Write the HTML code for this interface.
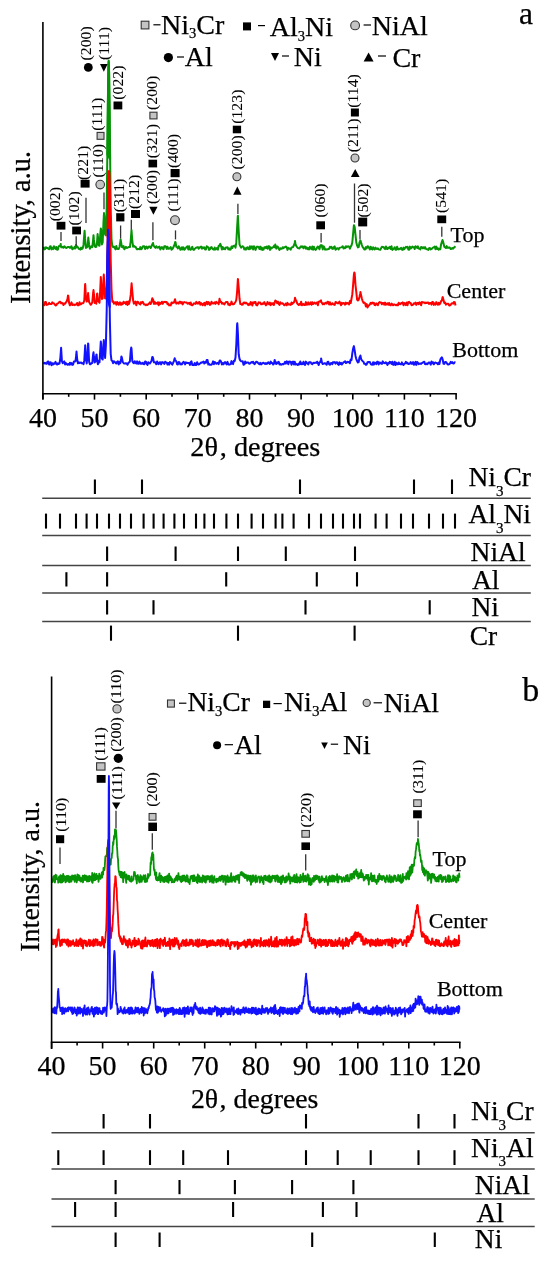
<!DOCTYPE html>
<html><head><meta charset="utf-8"><title>XRD patterns</title>
<style>
html,body{margin:0;padding:0;background:#fff;width:550px;height:1261px;overflow:hidden}
svg{display:block}
text{font-family:"Liberation Serif","Times New Roman",serif;fill:#000;stroke:#000;stroke-width:0.25px}
text.r{stroke-width:0.1px}
</style></head>
<body>
<svg width="550" height="1261" viewBox="0 0 550 1261">
<rect width="550" height="1261" fill="#fff"/>
<rect x="141.2" y="21.2" width="7.7" height="7.7" fill="#c4c4c4" stroke="#333" stroke-width="1.1"/>
<line x1="153.4" y1="24.8" x2="160.5" y2="24.8" stroke="#000" stroke-width="1.2"/>
<text x="161" y="33.5" font-size="28"><tspan>Ni</tspan><tspan font-size="14.5" dy="4.5">3</tspan><tspan font-size="28" dy="-4.5">Cr</tspan></text>
<rect x="243" y="22.4" width="8" height="8" fill="#000"/>
<line x1="258" y1="25.6" x2="265" y2="25.6" stroke="#000" stroke-width="1.2"/>
<text x="269.7" y="36" font-size="28"><tspan>Al</tspan><tspan font-size="14.5" dy="4.5">3</tspan><tspan font-size="28" dy="-4.5">Ni</tspan></text>
<circle cx="355.1" cy="25.4" r="4.4" fill="#c4c4c4" stroke="#333" stroke-width="1.1"/>
<line x1="363.6" y1="25" x2="371" y2="25" stroke="#000" stroke-width="1.2"/>
<text x="371.7" y="35.4" font-size="28">NiAl</text>
<circle cx="168.4" cy="57.6" r="4.6" fill="#000"/>
<line x1="177" y1="57" x2="184" y2="57" stroke="#000" stroke-width="1.2"/>
<text x="184.7" y="66" font-size="28">Al</text>
<polygon points="271,53 279,53 275,61" fill="#000"/>
<line x1="282" y1="56" x2="289" y2="56" stroke="#000" stroke-width="1.2"/>
<text x="293.7" y="66.4" font-size="28">Ni</text>
<polygon points="363.6,61.6 373.6,61.6 368.6,52.4" fill="#000"/>
<line x1="378" y1="56" x2="386" y2="56" stroke="#000" stroke-width="1.2"/>
<text x="392.4" y="67" font-size="28">Cr</text>
<text x="518.9" y="23.8" font-size="31.5">a</text>
<polyline fill="none" stroke="#069406" stroke-width="2" stroke-linejoin="round" points="43.5,246.7 44.3,249.4 45.1,249.1 45.9,247.2 46.7,248.1 47.5,247.9 48.3,248.7 49.1,249.2 49.9,246.5 50.7,246.3 51.5,249.4 52.3,247.8 53.1,249.1 53.9,246.2 54.7,247.9 55.5,248.9 56.3,247 57.1,249.8 57.9,249.6 58.7,246.2 59.5,246 60.3,245.7 60.7,244 61.1,247.2 61.9,247.4 62.7,246.9 63.5,247.7 64.3,246.3 65.1,247 65.9,247.8 66.7,248 67.5,247 68.3,247 69.1,247 69.9,247.9 70.7,247.3 71.5,246.2 72.3,249.3 73.1,248.2 73.9,248.5 74.7,246.7 75.5,248.4 76,245 76.3,247.1 77.1,246.4 77.9,247.3 78.7,248.8 79.5,248.8 80.3,249.6 81.1,247.6 81.9,249 82.7,248.2 83.5,244.9 84.3,234.1 84.6,230.8 85.1,238.9 85.9,247.9 86.7,247.4 87.5,246.8 88.3,237.5 88.4,239 89.1,244.4 89.9,248.7 90.7,247.3 91.5,246.3 92.3,247.1 93.1,240 93.5,235.2 93.9,239.9 94.7,246.3 95.5,247.1 96.3,246.9 97.1,241.1 97.6,234 97.9,236.7 98.7,245.4 99.5,245.7 100.3,234.1 100.8,228.5 101.1,229.8 101.9,244.4 102.7,242.3 103.5,222 104,213 104.3,216 105.1,234.5 105.9,235.4 106.7,207.4 107.5,140.4 108.3,71.8 108.7,60.5 109.1,73.1 109.9,138.7 110.7,206.3 111.5,239.1 112.3,246 113.1,247.1 113.9,246.6 114.7,247.8 115.5,249.4 116.3,245.9 117.1,248.8 117.9,248.9 118.7,249 119.5,247 120.3,241.8 120.6,239.5 121.1,242.2 121.9,247.1 122.7,247.4 123.5,246.1 124.3,249.3 125.1,248.2 125.9,246.8 126.7,247.9 127.5,247.8 128.3,247.2 129.1,247 129.9,247 130.7,241.1 131.5,230 132.3,241 133.1,246.7 133.9,245.8 134.7,246.8 135.5,246.7 136.3,248.3 137.1,249.4 137.9,249.1 138.7,249.1 139.5,249.2 140.3,247.1 141.1,249.3 141.9,248.7 142.7,246.5 143.5,246.2 144.3,246.2 145.1,249 145.9,247.1 146.7,246.6 147.5,248.5 148.3,247.4 149.1,246.4 149.9,246.7 150.7,248 151.5,246.3 152.3,244.5 153,243 153.1,243.9 153.9,246 154.7,247.1 155.5,247.9 156.3,246.2 157.1,247.6 157.9,247.7 158.7,246.9 159.5,246.6 160.3,249.6 161.1,248.1 161.9,247 162.7,248.5 163.5,249.3 164.3,246.3 165.1,246.2 165.9,246.7 166.7,248.9 167.5,246.8 168.3,248.8 169.1,248.7 169.9,248.2 170.7,247 171.5,249.8 172.3,249.1 173.1,247.9 173.9,246 174.7,244.3 175.2,242 175.5,242.3 176.3,246.8 177.1,247.1 177.9,248.5 178.7,246.3 179.5,247.3 180.3,249.8 181.1,249.5 181.9,247.3 182.7,249.4 183.5,247.4 184.3,249.7 185.1,249 185.9,247.8 186.7,247.1 187.5,246.2 188.3,249.5 189.1,246.3 189.9,249.3 190.7,249.8 191.5,248.4 192.3,246.8 193.1,249.5 193.9,249.9 194.7,248.9 195.5,248.1 196.3,247.6 197.1,247.5 197.9,247 198.7,248.7 199.5,247.8 200.3,246.9 201.1,246.6 201.9,248.7 202.7,247.3 203.5,248.1 204.3,247.4 205.1,249.5 205.9,249.6 206.7,246.3 207.5,246.9 208.3,247.4 209.1,249.9 209.9,249.2 210.7,247.5 211.5,247 212.3,248.7 213.1,249.3 213.9,249.7 214.7,247.5 215.5,249.5 216.3,248.7 217.1,247.9 217.9,249.7 218.7,246 219.5,245.7 219.8,244.5 220.3,243.8 221.1,246.1 221.9,249.5 222.7,246.9 223.5,249 224.3,248.4 225.1,249.3 225.9,247.5 226.7,247.4 227.5,247.2 228.3,249.4 229.1,248.4 229.9,249.7 230.7,249.4 231.5,246.5 232.3,248 233.1,246.2 233.9,245.8 234.7,245.6 235.5,247.7 236.3,242.4 237.1,227.7 237.8,216 237.9,215.7 238.7,231.4 239.5,244.4 240.3,246.2 241.1,247.6 241.9,246.6 242.7,246.2 243.5,246.9 244.3,249.4 245.1,248.2 245.9,249.6 246.7,247.8 247.5,247.2 248.3,249.1 249.1,249.3 249.9,246.2 250.7,248.7 251.5,246.5 252.3,246.6 253.1,249.5 253.9,246.3 254.7,247.1 255.5,249.9 256.3,247.8 257.1,246.6 257.9,246.8 258.7,247.1 259.5,249 260.3,246.6 261.1,249.6 261.9,247.6 262.7,249.9 263.5,249.6 264.3,247.3 265.1,247.1 265.9,248 266.7,246.6 267.5,248.7 268.3,246.3 269.1,246.2 269.9,249.9 270.7,247.3 271.5,248.4 272.3,247.8 273.1,247.2 273.9,245.9 274.7,247.3 275.3,244.5 275.5,246.5 276.3,248.6 277.1,246.4 277.9,246.9 278.7,248.5 279.5,249.9 280.3,248.2 281.1,248.8 281.9,248.7 282.7,247.2 283.5,248.2 284.3,247.3 285.1,247.1 285.9,246.5 286.7,247.2 287.5,249.9 288.3,247.9 289.1,248.6 289.9,248.6 290.7,249.7 291.5,247.6 292.3,247.2 293.1,247 293.9,245.3 294.7,243 295,241 295.5,244.3 296.3,246 297.1,247.1 297.9,248.1 298.7,248.3 299.5,248.4 300.3,247.1 301.1,246.2 301.9,247.1 302.7,246.4 303.5,248.3 304.3,246.4 305.1,246.5 305.9,248.6 306.7,247.3 307.5,249.2 308.3,248.1 309.1,249.5 309.9,246.8 310.7,248.1 311.5,249.2 312.3,246.5 313.1,249.8 313.9,246.8 314.7,249.1 315.5,249.9 316.3,249.3 317.1,247.4 317.9,246.5 318.7,248 319.5,249.3 320.3,245.5 321,245 321.1,246.5 321.9,245.4 322.7,249.4 323.5,246.2 324.3,247.3 325.1,249.6 325.9,249.2 326.7,249.6 327.5,249.4 328.3,249 329.1,248.8 329.9,246.8 330.7,247.8 331.5,246.8 332.3,248.9 333.1,248.7 333.9,247.1 334.7,246.4 335.5,249.8 336.3,249.2 337.1,248.2 337.9,248.2 338.7,249.4 339.5,247.9 340.3,247.6 341.1,247.4 341.9,247.1 342.7,246.2 343.5,248.5 344.3,247.6 345.1,248.2 345.9,246.2 346.7,247.3 347.5,246.4 348.3,246.3 349.1,246.7 349.9,248.7 350.7,246.6 351.5,245.4 352.3,242.5 353.1,233.8 353.9,225.2 354.3,225.7 354.7,227.2 355.5,234.8 356.3,242.5 357.1,245.4 357.9,247.4 358.7,247.1 359.5,242.5 360.3,240.4 360.4,240.4 361.1,242.6 361.9,245.1 362.7,247.1 363.5,248 364.3,249.4 365.1,249.5 365.9,247.1 366.7,248.5 367.5,246.3 368.3,246.4 369.1,248.1 369.9,249.5 370.7,246.7 371.5,249 372.3,249.5 373.1,247.3 373.9,248.8 374.7,249.4 375.5,247.6 376.3,248.8 377.1,249 377.9,248.4 378.7,249.4 379.5,249.6 380.3,249.8 381.1,248.3 381.9,246.8 382.7,247.1 383.5,247 384.3,248.3 385.1,249.1 385.9,246.4 386.7,248.8 387.5,248.9 388.3,247.5 389.1,248.1 389.9,246.8 390.7,249 391.5,246.3 392.3,249.9 393.1,249.3 393.9,248.6 394.7,247.2 395.5,249.7 396.3,249.8 397.1,246.7 397.9,249.1 398.7,249.4 399.5,248.7 400.3,248.9 401.1,247.9 401.9,249.7 402.7,249.9 403.5,247.6 404.3,249.2 405.1,247.8 405.9,246.8 406.7,247.4 407.5,246.7 408.3,249.6 409.1,249.8 409.9,246.6 410.7,248.5 411.5,247.7 412.3,246.6 413.1,247.3 413.9,247.1 414.7,249 415.5,246.2 416.3,246.9 417.1,247.9 417.9,246.3 418.7,248.6 419.5,248.5 420.3,249.4 421.1,247 421.9,247.3 422.7,248.3 423.5,247.2 424.3,248.4 425.1,247.1 425.9,248.8 426.7,249.2 427.5,249.3 428.3,249.9 429.1,248.3 429.9,248 430.7,249.4 431.5,249.1 432.3,248.3 433.1,247.6 433.9,247.2 434.7,246.6 435.5,249.2 436.3,246.6 437.1,249 437.9,248.2 438.7,249.7 439.5,248.8 440.3,249.3 441.1,244.4 441.9,241.9 442.5,240 442.7,240.5 443.5,243.3 444.3,246.9 445.1,247.2 445.9,248 446.7,246.1 447.5,247.8 448.3,247.8 449.1,247.3 449.9,247.7 450.7,249.1 451.5,248.8 452.3,248 453.1,248.6 453.9,247.6 454.7,247 455.5,246.2"/>
<polygon fill="#069406" stroke="#069406" stroke-width="2" stroke-linejoin="round" points="107.3,154.5 107.6,130.1 107.8,106.2 108.1,85.1 108.3,69.5 108.6,61.6 108.8,62.5 109.1,72.1 109.3,88.9 109.6,110.8 109.8,135.1 110.1,159.2"/>
<polyline fill="none" stroke="#ff0000" stroke-width="2" stroke-linejoin="round" points="43.5,305.3 44.3,305.3 45.1,301.9 45.9,302 46.7,304.9 47.5,304.5 48.3,304.2 49.1,302.9 49.9,304 50.7,304 51.5,303.9 52.3,302.3 53.1,303.3 53.9,303.2 54.7,304.4 55.5,305.5 56.3,305.3 57.1,303.7 57.9,303.4 58.7,302.7 59.5,301.8 60.3,301.8 61.1,303.4 61.9,302.9 62.7,303.1 63.5,305 64.3,303.6 65.1,303.7 65.9,302.4 66.7,301.4 67.5,298.9 68,295.5 68.3,296 69.1,303 69.9,305.3 70.7,304.2 71.5,302.3 72.3,305 73.1,304.7 73.9,304.4 74.7,305.1 75.5,304.5 76.3,304.6 77.1,303 77.9,305.3 78.7,305.3 79.5,302.2 80.3,304.4 81.1,304.2 81.9,303.2 82.7,303.3 83.5,302.8 84.3,300.4 85.1,284.4 85.2,284 85.9,296.9 86.7,301.6 87.5,300.7 88.1,293 88.3,295.7 89.1,302.1 89.9,303.4 90.7,304.8 91.5,303.9 92.3,302.3 93.1,293.2 93.5,290 93.9,293.6 94.7,303 95.5,301.6 96.3,303.7 97.1,293.7 97.3,293.5 97.9,300.9 98.7,301.6 99.5,302.8 100.3,288 100.8,277 101.1,281.4 101.9,298.9 102.7,298.2 103.5,279.1 103.8,274.6 104.3,283.7 105.1,298.4 105.9,298.6 106.7,286.4 107.5,247.3 108.3,192.1 109,171 109.1,172.7 109.9,207.2 110.7,260.6 111.5,289.3 112.3,301.7 113.1,301.1 113.9,303.7 114.7,302.4 115.5,302.3 116.3,304.8 117.1,301.9 117.9,303.5 118.7,304.8 119.5,302.5 120.3,302.4 121.1,304.9 121.9,303.2 122.7,304.3 123.5,301.7 124.3,303 125.1,302.2 125.9,304.1 126.7,301.8 127.5,305.1 128.3,301.5 129.1,303.9 129.9,300.3 130.7,294.9 131.5,284.8 131.6,283.3 132.3,291.3 133.1,300.3 133.9,303.7 134.7,302.8 135.5,301.6 136.3,305.3 137.1,302.1 137.9,301.7 138.7,302.9 139.5,304 140.3,304.5 141.1,302.1 141.9,302.9 142.7,301.8 143.5,303.4 144.3,304.6 145.1,304.5 145.9,305.1 146.7,304.5 147.5,304.9 148.3,304.3 149.1,303.4 149.9,302.4 150.7,304 151.5,301.8 152.3,298.3 152.7,299 153.1,299.6 153.9,303.9 154.7,301.9 155.5,303.8 156.3,303.1 157.1,303.6 157.9,302.2 158.7,305.3 159.5,302.6 160.3,304 161.1,303.3 161.9,301.7 162.7,303.8 163.5,302.2 164.3,301.9 165.1,301.8 165.9,302.3 166.7,302 167.5,304.1 168.3,303.6 169.1,305.4 169.9,305.2 170.7,305.4 171.5,302.5 172.3,303.3 173.1,302.4 173.9,302.7 174.7,300.2 175,299.3 175.5,301.5 176.3,303.6 177.1,302.5 177.9,303.2 178.7,303.6 179.5,301.7 180.3,301.8 181.1,303.2 181.9,302.1 182.7,304.4 183.5,302.6 184.3,302.1 185.1,302.4 185.9,302.6 186.7,302.5 187.5,303.7 188.3,303.5 189.1,302.9 189.9,304.1 190.7,302.5 191.5,305.1 192.3,305.3 193.1,304.5 193.9,303.3 194.7,303.6 195.5,303.9 196.3,301.9 197.1,303.3 197.9,303.7 198.7,302.4 199.5,302 200.3,304.7 201.1,303.1 201.9,303.7 202.7,305.2 203.5,304 204.3,302.8 205.1,305.4 205.9,303.1 206.7,301.8 207.5,304.3 208.3,302.1 209.1,302.8 209.9,304.9 210.7,304.2 211.5,301.7 212.3,303.4 213.1,303.2 213.9,303.5 214.7,302.4 215.5,303.9 216.3,301.9 217.1,302.7 217.9,302.9 218.7,304.2 219.5,298.8 219.8,300 220.3,301.9 221.1,301.7 221.9,303.7 222.7,303.1 223.5,303.4 224.3,304.5 225.1,303.1 225.9,302.1 226.7,302.1 227.5,301.9 228.3,304.8 229.1,304 229.9,305.2 230.7,304.2 231.5,301.6 232.3,304 233.1,304.4 233.9,304.1 234.7,303 235.5,302 236.3,299.9 237.1,291.9 237.9,278.9 238,279.6 238.7,287.5 239.5,298.5 240.3,304 241.1,304.1 241.9,304.8 242.7,304.6 243.5,302.6 244.3,302.4 245.1,303.4 245.9,302.6 246.7,303.2 247.5,304.2 248.3,305.1 249.1,303.9 249.9,304.8 250.7,302 251.5,303 252.3,305.5 253.1,302.2 253.9,303.3 254.7,301.9 255.5,302 256.3,305.1 257.1,305.4 257.9,304.1 258.7,302.2 259.5,302.8 260.3,302.6 261.1,304.2 261.9,304.3 262.7,303.3 263.5,303.7 264.3,302.1 265.1,303.7 265.9,305.3 266.7,304.5 267.5,302 268.3,303.6 269.1,304.4 269.9,302.6 270.7,305.1 271.5,303.4 272.3,304.3 273.1,303.1 273.9,305 274.7,302.5 275.3,300.4 275.5,300.8 276.3,301.1 277.1,303.1 277.9,301.7 278.7,303.9 279.5,305 280.3,302.3 281.1,303.6 281.9,303.5 282.7,303.2 283.5,304.4 284.3,305.2 285.1,304.4 285.9,303.5 286.7,305.3 287.5,302.9 288.3,304.5 289.1,304.2 289.9,304.5 290.7,304.9 291.5,302.5 292.3,303.9 293.1,302.9 293.9,302.5 294.7,300.2 295,297.8 295.5,299.8 296.3,300.6 297.1,303.2 297.9,304.3 298.7,305 299.5,304.1 300.3,304.7 301.1,301.7 301.9,305.2 302.7,304.4 303.5,304 304.3,305.1 305.1,305 305.9,302.1 306.7,304.8 307.5,304.6 308.3,302.4 309.1,304.5 309.9,303.9 310.7,302.4 311.5,304.7 312.3,302.2 313.1,304 313.9,303.3 314.7,302.6 315.5,303.8 316.3,303.4 317.1,302.4 317.9,305.3 318.7,301.8 319.5,301.3 320.3,301.7 321,300.4 321.1,301.7 321.9,302.8 322.7,304.3 323.5,303.4 324.3,304.2 325.1,302.9 325.9,302.7 326.7,303.6 327.5,301.8 328.3,302 329.1,304.5 329.9,302.3 330.7,304.5 331.5,304.6 332.3,303.2 333.1,304.2 333.9,304.6 334.7,304.9 335.5,302.1 336.3,302.2 337.1,303.1 337.9,303.4 338.7,302.7 339.5,301.6 340.3,303.7 341.1,305.2 341.9,302.9 342.7,303.6 343.5,303 344.3,303.2 345.1,304.7 345.9,302.6 346.7,303.8 347.5,303.1 348.3,303.2 349.1,304.4 349.9,300.9 350.7,303 351.5,298.8 352.3,294.4 353.1,285 353.9,274.7 354.3,272.4 354.7,273.6 355.5,285.1 356.3,292.1 357.1,299.7 357.9,300.4 358.7,299.7 359.5,296.8 360.3,293.2 360.4,292 361.1,295.1 361.9,298.7 362.7,301.1 363.5,302.9 364.3,302.5 365.1,303.2 365.9,306.4 366.7,304.1 367.5,307.5 368,306.4 368.3,305.9 369.1,305.3 369.9,304.4 370.7,302.8 371.5,303.8 372.3,302.5 373.1,303.4 373.9,302.8 374.7,305.1 375.5,305.2 376.3,303.4 377.1,304.1 377.9,305.2 378.7,302.9 379.5,302.1 380.3,302.6 381.1,302.4 381.9,304.3 382.7,303.1 383.5,303 384.3,304.7 385.1,302.6 385.9,304.8 386.7,304.1 387.5,303.2 388.3,304.8 389.1,303 389.9,305 390.7,305.2 391.5,303.6 392.3,304.3 393.1,305.3 393.9,304.5 394.7,304.5 395.5,305 396.3,305.2 397.1,304.6 397.9,305.4 398.7,302.8 399.5,304.1 400.3,304.2 401.1,303.1 401.9,303.2 402.7,302.4 403.5,305.3 404.3,303 405.1,303.5 405.9,305.1 406.7,302.4 407.5,305.3 408.3,302.2 409.1,301.8 409.9,303 410.7,303.1 411.5,305.2 412.3,305 413.1,304.6 413.9,303.3 414.7,303.8 415.5,302.6 416.3,304.9 417.1,303.2 417.9,302.8 418.7,304.1 419.5,302.3 420.3,302.9 421.1,305.2 421.9,302.1 422.7,302.2 423.5,302.5 424.3,302.6 425.1,303.3 425.9,302.6 426.7,303 427.5,302.6 428.3,302.6 429.1,304 429.9,303 430.7,303.1 431.5,304.6 432.3,301.9 433.1,302.2 433.9,304.9 434.7,303.3 435.5,304.6 436.3,302.1 437.1,303.6 437.9,304.8 438.7,302.8 439.5,304.4 440.3,303.4 441.1,301.1 441.9,300.5 442.5,297.4 442.7,297.1 443.5,300 444.3,302.9 445.1,302.5 445.9,304.7 446.7,303.8 447.5,303.8 448.3,303.7 449.1,305.4 449.9,305.4 450.7,304.9 451.5,303.4 452.3,303.2 453.1,303.7 453.9,301.9 454.7,302.1 455.5,305.5"/>
<polygon fill="#ff0000" stroke="#ff0000" stroke-width="2" stroke-linejoin="round" points="107.7,237.4 107.9,220.2 108.2,203.2 108.4,188.3 108.7,177.3 108.9,171.7 109.2,172.3 109.4,179.1 109.7,191.1 109.9,206.5 110.2,223.7 110.4,240.7"/>
<polyline fill="none" stroke="#1212ff" stroke-width="2" stroke-linejoin="round" points="43.5,362.3 44.3,363.5 45.1,362.8 45.9,363.7 46.7,363.8 47.5,361.6 48.3,361.4 49.1,364.6 49.9,362.4 50.7,362.3 51.5,365.2 52.3,363.2 53.1,364.5 53.9,363.2 54.7,363.8 55.5,361.9 56.3,363.7 57.1,364.6 57.9,363.3 58.7,364 59.5,363.5 60.3,358.5 61.1,347.8 61.9,361.1 62.7,363.2 63.5,362.3 64.3,361.4 65.1,364.6 65.9,363.1 66.7,364.1 67.5,364.7 68.3,364.1 69.1,364.8 69.9,362.8 70.7,364.4 71.5,363 72.3,364.9 73.1,364.6 73.9,361.6 74.7,361.6 75.5,361 76.3,354.7 76.5,351.6 77.1,358.6 77.9,363.3 78.7,362.3 79.5,363.1 80.3,362.7 81.1,362.5 81.9,363.4 82.7,363.2 83.5,364.2 84.3,360.4 85.1,347.4 85.2,345.3 85.9,358.2 86.7,363.4 87.5,354.9 88.1,343.4 88.3,344 89.1,361.7 89.9,364.3 90.7,364.3 91.5,363 92.3,363 93.1,354.6 93.5,352.3 93.9,357 94.7,362.4 95.5,361.4 96.3,354.8 96.6,354.5 97.1,360 97.9,364.3 98.7,360.8 99.5,362.4 100.3,349.5 100.8,341.5 101.1,343.7 101.9,358.6 102.7,359.5 103.5,344.8 103.8,340 104.3,345.8 105.1,358 105.9,344.9 106.7,310.6 107.5,253.6 108.2,229.8 108.3,231.8 109.1,269.6 109.9,322.1 110.7,354.1 111.5,360.3 112.3,361 113.1,363.2 113.9,361.2 114.7,361.9 115.5,362.7 116.3,363.5 117.1,361.8 117.9,361.3 118.7,364.4 119.5,362.1 120.3,363.2 121.1,358.7 121.4,356.4 121.9,357.8 122.7,361.9 123.5,363 124.3,363.6 125.1,363.5 125.9,363.3 126.7,363.5 127.5,364.7 128.3,363 129.1,362.4 129.9,361.5 130.7,351 131.2,347.6 131.5,348.6 132.3,361.1 133.1,362.6 133.9,363.1 134.7,361.2 135.5,362.8 136.3,363.5 137.1,361.4 137.9,363.7 138.7,363.7 139.5,361.6 140.3,363.7 141.1,363.1 141.9,363.9 142.7,362.7 143.5,364 144.3,364.2 145.1,361.4 145.9,361.6 146.7,363.9 147.5,365 148.3,362.3 149.1,363 149.9,363.5 150.7,362.2 151.5,360.9 152.3,356.9 152.6,357 153.1,358.1 153.9,362.4 154.7,362.2 155.5,362.7 156.3,364.2 157.1,361.4 157.9,363.5 158.7,364.1 159.5,362.5 160.3,362.2 161.1,364.4 161.9,362.3 162.7,362.1 163.5,363 164.3,364 165.1,361.8 165.9,362.6 166.7,362.6 167.5,364.5 168.3,363 169.1,364.6 169.9,362 170.7,362.6 171.5,363.8 172.3,364.7 173.1,362.9 173.9,361.1 174.7,358.3 175,359.3 175.5,360.4 176.3,361.3 177.1,364.3 177.9,364.5 178.7,362 179.5,362.4 180.3,364.4 181.1,363.8 181.9,364.4 182.7,362.7 183.5,361.9 184.3,362.5 185.1,364.4 185.9,362.4 186.7,362.7 187.5,363 188.3,363 189.1,362.9 189.9,364.9 190.7,362 191.5,361.4 192.3,365 193.1,364.7 193.9,365.1 194.7,363 195.5,365 196.3,364.9 197.1,362.2 197.9,364.2 198.7,364.6 199.5,363.9 200.3,363.3 201.1,362.5 201.9,362.7 202.7,362.2 203.5,361.6 204.3,363.5 205.1,362.1 205.9,362.8 206.7,360 207.5,359.9 208.3,364.5 209.1,363.9 209.9,364.8 210.7,364.7 211.5,364.8 212.3,363.5 213.1,361.4 213.9,364.2 214.7,362 215.5,362.5 216.3,363.8 217.1,363.3 217.9,362.8 218.7,364.1 219.5,361.1 219.8,360.4 220.3,360.5 221.1,361.8 221.9,364.5 222.7,363.1 223.5,364.3 224.3,362.6 225.1,362.1 225.9,363.3 226.7,364.4 227.5,361.9 228.3,364.3 229.1,364.7 229.9,364.3 230.7,364.3 231.5,361.1 232.3,363.4 233.1,364.1 233.9,360.7 234.7,360.9 235.5,357.5 236.3,344.7 237.1,324.4 237.3,323.3 237.9,333.4 238.7,354.3 239.5,358.8 240.3,360.5 241.1,361.2 241.9,361.4 242.7,361.3 243.5,364.8 244.3,364.4 245.1,361.5 245.9,363.2 246.7,362.5 247.5,362.5 248.3,362.6 249.1,363.8 249.9,363.6 250.7,362.7 251.5,362.1 252.3,362.6 253.1,361.8 253.9,363.5 254.7,364.1 255.5,362.8 256.3,361.7 257.1,362 257.9,362.8 258.7,363.7 259.5,364.3 260.3,362.8 261.1,364.4 261.9,363.7 262.7,363 263.5,362.8 264.3,363.3 265.1,364 265.9,363 266.7,364 267.5,363.1 268.3,362.3 269.1,363.4 269.9,364 270.7,361.6 271.5,363 272.3,362.9 273.1,364.5 273.9,363.7 274.7,360 274.8,360.4 275.5,363.1 276.3,364 277.1,362.3 277.9,363.1 278.7,361.8 279.5,364.5 280.3,363.9 281.1,364.7 281.9,364.4 282.7,363.9 283.5,364.2 284.3,363.5 285.1,361.8 285.9,363.6 286.7,361.4 287.5,361.9 288.3,364.3 289.1,361.6 289.9,361.7 290.7,361.8 291.5,364.7 292.3,362.1 293.1,361.5 293.9,364.6 294.7,361.8 295.5,364.6 296.3,363.9 297.1,364.6 297.9,365 298.7,363.6 299.5,364.4 300.3,361.5 301.1,364.3 301.9,363.3 302.7,364.1 303.5,361.8 304.3,364.2 305.1,364.9 305.9,361.6 306.7,362.6 307.5,363.5 308.3,364.5 309.1,362.3 309.9,362.1 310.7,362.3 311.5,363.7 312.3,364.2 313.1,362.9 313.9,362.8 314.7,362.9 315.5,362.7 316.3,362.9 317.1,361.7 317.9,363.2 318.7,365 319.5,362.5 320.3,362.1 321,359.7 321.1,358.5 321.9,362.5 322.7,363.9 323.5,363.8 324.3,363.3 325.1,363.2 325.9,363.8 326.7,364.8 327.5,361.9 328.3,361.7 329.1,364.2 329.9,364.8 330.7,363.3 331.5,363 332.3,364.1 333.1,362.1 333.9,362.4 334.7,362.1 335.5,363.6 336.3,362.5 337.1,362.2 337.9,364 338.7,364.9 339.5,362.4 340.3,364 341.1,362.9 341.9,364.5 342.7,363.5 343.5,362.3 344.3,362.1 345.1,361.3 345.9,363 346.7,362.6 347.5,361.7 348.3,362.3 349.1,361.9 349.9,363.2 350.7,359.5 351.5,360 352.3,353.4 353.1,348.7 353.8,346.2 353.9,346.1 354.7,350.7 355.5,355.9 356.3,359.1 357.1,361 357.9,362.5 358.7,362 359.5,357.4 360.3,356.3 360.4,355.4 361.1,358.9 361.9,360.3 362.7,361.2 363.5,361.8 364.3,363.8 365.1,363.7 365.9,364.8 366.7,364.5 367.5,362.2 368.3,362 369.1,362.3 369.9,362 370.7,364 371.5,364.6 372.3,364.8 373.1,362.3 373.9,364.6 374.7,362.5 375.5,363 376.3,364.1 377.1,361.7 377.9,361.7 378.7,364.5 379.5,362.5 380.3,362.7 381.1,363.6 381.9,363.9 382.7,361.4 383.5,362.6 384.3,363 385.1,363.2 385.9,362.2 386.7,363.6 387.5,365 388.3,362.9 389.1,363.5 389.9,361.8 390.7,362.4 391.5,363.9 392.3,361.8 393.1,364.8 393.9,364.8 394.7,361.8 395.5,365 396.3,362.8 397.1,364.3 397.9,364.3 398.7,362.5 399.5,364 400.3,363.9 401.1,364.5 401.9,362.4 402.7,364.3 403.5,365 404.3,363.9 405.1,363.4 405.9,361.8 406.7,363.3 407.5,362.7 408.3,364.1 409.1,364 409.9,363.5 410.7,362.1 411.5,363.8 412.3,363.8 413.1,362.1 413.9,364.8 414.7,363.9 415.5,361.9 416.3,364.9 417.1,361.9 417.9,362.7 418.7,364.1 419.5,363.7 420.3,363.5 421.1,363.9 421.9,363.1 422.7,362.6 423.5,362.1 424.3,361.7 425.1,364.1 425.9,364.3 426.7,363.5 427.5,364.2 428.3,362.8 429.1,362.4 429.9,362.8 430.7,364.7 431.5,361.5 432.3,363.3 433.1,362.3 433.9,364.3 434.7,362.7 435.5,362.6 436.3,362.9 437.1,363.4 437.9,364.2 438.7,362.5 439.5,363.9 440.3,359.6 441.1,358 441.5,358.4 441.9,357.4 442.7,359.7 443.5,363.7 444.3,363.9 445.1,362 445.9,362 446.7,362.9 447.5,364.2 448.3,364.5 449.1,364.2 449.9,363.6 450.7,361.9 451.5,362.9 452.3,362.1 453.1,363.4 453.9,363.5 454.7,362.2 455.5,362.3"/>
<polygon fill="#1212ff" stroke="#1212ff" stroke-width="2" stroke-linejoin="round" points="106.9,296.7 107.2,278.7 107.4,261 107.7,245.8 107.9,234.9 108.2,230.2 108.4,232.2 108.7,240.8 108.9,254.5 109.2,271.5 109.4,289.5 109.7,306.9"/>
<text x="450.6" y="242.4" font-size="22">Top</text>
<text x="446.7" y="297.5" font-size="22">Center</text>
<text x="452.3" y="357" font-size="22">Bottom</text>
<text class="r" transform="translate(90.5,60.5) rotate(-90) scale(1,0.93)" font-size="15.8">(200)</text>
<circle cx="88.3" cy="67.4" r="4.4" fill="#000"/>
<text class="r" transform="translate(108.5,60) rotate(-90) scale(1,0.93)" font-size="15.8">(111)</text>
<polygon points="100,64 107.7,64 103.8,71.8" fill="#000"/>
<text class="r" transform="translate(122.6,99.7) rotate(-90) scale(1,0.93)" font-size="15.8">(022)</text>
<rect x="113.5" y="101.5" width="8.8" height="7.9" fill="#000"/>
<text class="r" transform="translate(101.9,130.7) rotate(-90) scale(1,0.93)" font-size="15.8">(111)</text>
<rect x="97.1" y="132.4" width="6.9" height="6.9" fill="#c4c4c4" stroke="#333" stroke-width="1.1"/>
<text class="r" transform="translate(102.7,177.5) rotate(-90) scale(1,0.93)" font-size="15.8">(110)</text>
<circle cx="100.2" cy="184.6" r="4.3" fill="#c4c4c4" stroke="#333" stroke-width="1.1"/>
<line x1="104" y1="192.4" x2="104" y2="209.2" stroke="#333" stroke-width="1.3"/>
<text class="r" transform="translate(88,179.9) rotate(-90) scale(1,0.93)" font-size="15.8">(221)</text>
<rect x="80.6" y="179.8" width="9" height="7.8" fill="#000"/>
<line x1="86" y1="197.8" x2="86" y2="223" stroke="#333" stroke-width="1.3"/>
<text class="r" transform="translate(60.4,221.3) rotate(-90) scale(1,0.93)" font-size="15.8">(002)</text>
<rect x="56.6" y="221.8" width="8.8" height="7.8" fill="#000"/>
<line x1="61" y1="232" x2="61" y2="241" stroke="#333" stroke-width="1.3"/>
<text class="r" transform="translate(78.7,225.5) rotate(-90) scale(1,0.93)" font-size="15.8">(102)</text>
<rect x="72.2" y="226.6" width="8.8" height="7.8" fill="#000"/>
<line x1="76.2" y1="236.2" x2="76.2" y2="245.8" stroke="#333" stroke-width="1.3"/>
<text class="r" transform="translate(124.4,212.3) rotate(-90) scale(1,0.93)" font-size="15.8">(311)</text>
<rect x="116.2" y="213.2" width="8.2" height="8.2" fill="#000"/>
<line x1="120.6" y1="225.5" x2="120.6" y2="238.6" stroke="#333" stroke-width="1.3"/>
<text class="r" transform="translate(139.2,209) rotate(-90) scale(1,0.93)" font-size="15.8">(212)</text>
<rect x="131" y="210" width="9" height="8" fill="#000"/>
<line x1="131.3" y1="219.8" x2="131.3" y2="229.6" stroke="#333" stroke-width="1.3"/>
<text class="r" transform="translate(157.2,204.1) rotate(-90) scale(1,0.93)" font-size="15.8">(200)</text>
<polygon points="149.3,206.7 157.5,206.7 153.4,214.8" fill="#000"/>
<line x1="152.9" y1="222.2" x2="152.9" y2="240.2" stroke="#333" stroke-width="1.3"/>
<text class="r" transform="translate(157.2,158.3) rotate(-90) scale(1,0.93)" font-size="15.8">(321)</text>
<rect x="148.5" y="159.7" width="8.6" height="7.7" fill="#000"/>
<text class="r" transform="translate(157.2,110) rotate(-90) scale(1,0.93)" font-size="15.8">(200)</text>
<rect x="149.9" y="112.2" width="7.1" height="6.7" fill="#c4c4c4" stroke="#333" stroke-width="1.1"/>
<text class="r" transform="translate(178.4,168.1) rotate(-90) scale(1,0.93)" font-size="15.8">(400)</text>
<rect x="170.6" y="169" width="9" height="8.2" fill="#000"/>
<text class="r" transform="translate(178.4,211.5) rotate(-90) scale(1,0.93)" font-size="15.8">(111)</text>
<circle cx="175" cy="220.2" r="4.4" fill="#c4c4c4" stroke="#333" stroke-width="1.1"/>
<line x1="175.5" y1="230.4" x2="175.5" y2="239.4" stroke="#333" stroke-width="1.3"/>
<text class="r" transform="translate(241.7,123.8) rotate(-90) scale(1,0.93)" font-size="15.8">(123)</text>
<rect x="232.8" y="125.7" width="8.3" height="7.6" fill="#000"/>
<text class="r" transform="translate(241.7,169.5) rotate(-90) scale(1,0.93)" font-size="15.8">(200)</text>
<circle cx="236.9" cy="176.7" r="4" fill="#c4c4c4" stroke="#333" stroke-width="1.1"/>
<polygon points="233.2,194.8 241.5,194.8 237.3,186.6" fill="#000"/>
<line x1="237.9" y1="203.7" x2="237.9" y2="213.9" stroke="#333" stroke-width="1.3"/>
<text class="r" transform="translate(325.2,217.6) rotate(-90) scale(1,0.93)" font-size="15.8">(060)</text>
<rect x="316.3" y="221.3" width="8.7" height="8" fill="#000"/>
<line x1="321.1" y1="232.9" x2="321.1" y2="242.4" stroke="#333" stroke-width="1.3"/>
<text class="r" transform="translate(358.3,107.8) rotate(-90) scale(1,0.93)" font-size="15.8">(114)</text>
<rect x="350.9" y="108.5" width="8" height="8" fill="#000"/>
<text class="r" transform="translate(358.3,152.2) rotate(-90) scale(1,0.93)" font-size="15.8">(211)</text>
<circle cx="355" cy="158" r="4" fill="#c4c4c4" stroke="#333" stroke-width="1.1"/>
<polygon points="350.9,176.9 359.6,176.9 355.2,168.9" fill="#000"/>
<line x1="354.5" y1="183.5" x2="354.5" y2="222.7" stroke="#333" stroke-width="1.3"/>
<text class="r" transform="translate(368.1,217.6) rotate(-90) scale(1,0.93)" font-size="15.8">(502)</text>
<rect x="358.2" y="217.6" width="9" height="8.8" fill="#000"/>
<line x1="360" y1="230" x2="360" y2="239.5" stroke="#333" stroke-width="1.3"/>
<text class="r" transform="translate(445.6,213) rotate(-90) scale(1,0.93)" font-size="15.8">(541)</text>
<rect x="437.3" y="215.5" width="8.9" height="7.7" fill="#000"/>
<line x1="441.8" y1="226.8" x2="441.8" y2="236.8" stroke="#333" stroke-width="1.3"/>
<line x1="42.9" y1="22" x2="42.9" y2="399.5" stroke="#000" stroke-width="1.6"/>
<line x1="42.1" y1="393.8" x2="456.9" y2="393.8" stroke="#000" stroke-width="1.6"/>
<line x1="42.9" y1="393.8" x2="42.9" y2="399.6" stroke="#000" stroke-width="1.6"/>
<line x1="68.7" y1="393.8" x2="68.7" y2="396.8" stroke="#000" stroke-width="1.6"/>
<line x1="94.5" y1="393.8" x2="94.5" y2="399.6" stroke="#000" stroke-width="1.6"/>
<line x1="120.4" y1="393.8" x2="120.4" y2="396.8" stroke="#000" stroke-width="1.6"/>
<line x1="146.2" y1="393.8" x2="146.2" y2="399.6" stroke="#000" stroke-width="1.6"/>
<line x1="172" y1="393.8" x2="172" y2="396.8" stroke="#000" stroke-width="1.6"/>
<line x1="197.8" y1="393.8" x2="197.8" y2="399.6" stroke="#000" stroke-width="1.6"/>
<line x1="223.7" y1="393.8" x2="223.7" y2="396.8" stroke="#000" stroke-width="1.6"/>
<line x1="249.5" y1="393.8" x2="249.5" y2="399.6" stroke="#000" stroke-width="1.6"/>
<line x1="275.3" y1="393.8" x2="275.3" y2="396.8" stroke="#000" stroke-width="1.6"/>
<line x1="301.1" y1="393.8" x2="301.1" y2="399.6" stroke="#000" stroke-width="1.6"/>
<line x1="327" y1="393.8" x2="327" y2="396.8" stroke="#000" stroke-width="1.6"/>
<line x1="352.8" y1="393.8" x2="352.8" y2="399.6" stroke="#000" stroke-width="1.6"/>
<line x1="378.6" y1="393.8" x2="378.6" y2="396.8" stroke="#000" stroke-width="1.6"/>
<line x1="404.4" y1="393.8" x2="404.4" y2="399.6" stroke="#000" stroke-width="1.6"/>
<line x1="430.3" y1="393.8" x2="430.3" y2="396.8" stroke="#000" stroke-width="1.6"/>
<line x1="456.1" y1="393.8" x2="456.1" y2="399.6" stroke="#000" stroke-width="1.6"/>
<text x="42.9" y="426.8" font-size="28" text-anchor="middle">40</text>
<text x="94.5" y="426.8" font-size="28" text-anchor="middle">50</text>
<text x="146.2" y="426.8" font-size="28" text-anchor="middle">60</text>
<text x="197.8" y="426.8" font-size="28" text-anchor="middle">70</text>
<text x="249.5" y="426.8" font-size="28" text-anchor="middle">80</text>
<text x="301.1" y="426.8" font-size="28" text-anchor="middle">90</text>
<text x="352.8" y="426.8" font-size="28" text-anchor="middle">100</text>
<text x="404.4" y="426.8" font-size="28" text-anchor="middle">110</text>
<text x="456.1" y="426.8" font-size="28" text-anchor="middle">120</text>
<text x="190.3" y="456.3" font-size="28.3">2θ<tspan dx="1.8">, degrees</tspan></text>
<text transform="translate(30,304.1) rotate(-90)" font-size="28.5">Intensity, a.u.</text>
<line x1="42.2" y1="498.2" x2="530.8" y2="498.2" stroke="#444" stroke-width="1.5"/>
<line x1="42.2" y1="535.4" x2="530.8" y2="535.4" stroke="#444" stroke-width="1.5"/>
<line x1="42.2" y1="565.4" x2="530.8" y2="565.4" stroke="#444" stroke-width="1.5"/>
<line x1="42.2" y1="593.1" x2="530.8" y2="593.1" stroke="#444" stroke-width="1.5"/>
<line x1="42.2" y1="621.5" x2="530.8" y2="621.5" stroke="#444" stroke-width="1.5"/>
<line x1="94.9" y1="479.5" x2="94.9" y2="494" stroke="#000" stroke-width="2.1"/>
<line x1="142" y1="479.5" x2="142" y2="494" stroke="#000" stroke-width="2.1"/>
<line x1="300" y1="479.5" x2="300" y2="494" stroke="#000" stroke-width="2.1"/>
<line x1="414" y1="479.5" x2="414" y2="494" stroke="#000" stroke-width="2.1"/>
<line x1="452" y1="479.5" x2="452" y2="494" stroke="#000" stroke-width="2.1"/>
<line x1="46" y1="513.6" x2="46" y2="528.6" stroke="#000" stroke-width="2.1"/>
<line x1="60" y1="513.6" x2="60" y2="528.6" stroke="#000" stroke-width="2.1"/>
<line x1="76" y1="513.6" x2="76" y2="528.6" stroke="#000" stroke-width="2.1"/>
<line x1="86.6" y1="513.6" x2="86.6" y2="528.6" stroke="#000" stroke-width="2.1"/>
<line x1="97" y1="513.6" x2="97" y2="528.6" stroke="#000" stroke-width="2.1"/>
<line x1="109" y1="513.6" x2="109" y2="528.6" stroke="#000" stroke-width="2.1"/>
<line x1="120" y1="513.6" x2="120" y2="528.6" stroke="#000" stroke-width="2.1"/>
<line x1="131" y1="513.6" x2="131" y2="528.6" stroke="#000" stroke-width="2.1"/>
<line x1="143.6" y1="513.6" x2="143.6" y2="528.6" stroke="#000" stroke-width="2.1"/>
<line x1="153.6" y1="513.6" x2="153.6" y2="528.6" stroke="#000" stroke-width="2.1"/>
<line x1="163.6" y1="513.6" x2="163.6" y2="528.6" stroke="#000" stroke-width="2.1"/>
<line x1="174.4" y1="513.6" x2="174.4" y2="528.6" stroke="#000" stroke-width="2.1"/>
<line x1="184" y1="513.6" x2="184" y2="528.6" stroke="#000" stroke-width="2.1"/>
<line x1="196" y1="513.6" x2="196" y2="528.6" stroke="#000" stroke-width="2.1"/>
<line x1="204.4" y1="513.6" x2="204.4" y2="528.6" stroke="#000" stroke-width="2.1"/>
<line x1="214" y1="513.6" x2="214" y2="528.6" stroke="#000" stroke-width="2.1"/>
<line x1="226.4" y1="513.6" x2="226.4" y2="528.6" stroke="#000" stroke-width="2.1"/>
<line x1="238" y1="513.6" x2="238" y2="528.6" stroke="#000" stroke-width="2.1"/>
<line x1="251.6" y1="513.6" x2="251.6" y2="528.6" stroke="#000" stroke-width="2.1"/>
<line x1="263" y1="513.6" x2="263" y2="528.6" stroke="#000" stroke-width="2.1"/>
<line x1="275.6" y1="513.6" x2="275.6" y2="528.6" stroke="#000" stroke-width="2.1"/>
<line x1="282.4" y1="513.6" x2="282.4" y2="528.6" stroke="#000" stroke-width="2.1"/>
<line x1="293.6" y1="513.6" x2="293.6" y2="528.6" stroke="#000" stroke-width="2.1"/>
<line x1="309" y1="513.6" x2="309" y2="528.6" stroke="#000" stroke-width="2.1"/>
<line x1="321" y1="513.6" x2="321" y2="528.6" stroke="#000" stroke-width="2.1"/>
<line x1="333" y1="513.6" x2="333" y2="528.6" stroke="#000" stroke-width="2.1"/>
<line x1="343" y1="513.6" x2="343" y2="528.6" stroke="#000" stroke-width="2.1"/>
<line x1="354" y1="513.6" x2="354" y2="528.6" stroke="#000" stroke-width="2.1"/>
<line x1="360" y1="513.6" x2="360" y2="528.6" stroke="#000" stroke-width="2.1"/>
<line x1="375.6" y1="513.6" x2="375.6" y2="528.6" stroke="#000" stroke-width="2.1"/>
<line x1="386.6" y1="513.6" x2="386.6" y2="528.6" stroke="#000" stroke-width="2.1"/>
<line x1="401" y1="513.6" x2="401" y2="528.6" stroke="#000" stroke-width="2.1"/>
<line x1="413" y1="513.6" x2="413" y2="528.6" stroke="#000" stroke-width="2.1"/>
<line x1="429" y1="513.6" x2="429" y2="528.6" stroke="#000" stroke-width="2.1"/>
<line x1="443" y1="513.6" x2="443" y2="528.6" stroke="#000" stroke-width="2.1"/>
<line x1="455" y1="513.6" x2="455" y2="528.6" stroke="#000" stroke-width="2.1"/>
<line x1="107.1" y1="546.5" x2="107.1" y2="561" stroke="#000" stroke-width="2.1"/>
<line x1="175.6" y1="546.5" x2="175.6" y2="561" stroke="#000" stroke-width="2.1"/>
<line x1="238" y1="546.5" x2="238" y2="561" stroke="#000" stroke-width="2.1"/>
<line x1="285.8" y1="546.5" x2="285.8" y2="561" stroke="#000" stroke-width="2.1"/>
<line x1="355" y1="546.5" x2="355" y2="561" stroke="#000" stroke-width="2.1"/>
<line x1="66.4" y1="572.2" x2="66.4" y2="586.5" stroke="#000" stroke-width="2.1"/>
<line x1="107.1" y1="572.2" x2="107.1" y2="586.5" stroke="#000" stroke-width="2.1"/>
<line x1="226.2" y1="572.2" x2="226.2" y2="586.5" stroke="#000" stroke-width="2.1"/>
<line x1="316.8" y1="572.2" x2="316.8" y2="586.5" stroke="#000" stroke-width="2.1"/>
<line x1="357" y1="572.2" x2="357" y2="586.5" stroke="#000" stroke-width="2.1"/>
<line x1="107.1" y1="600.2" x2="107.1" y2="614.5" stroke="#000" stroke-width="2.1"/>
<line x1="153.5" y1="600.2" x2="153.5" y2="614.5" stroke="#000" stroke-width="2.1"/>
<line x1="305.5" y1="600.2" x2="305.5" y2="614.5" stroke="#000" stroke-width="2.1"/>
<line x1="429.7" y1="600.2" x2="429.7" y2="614.5" stroke="#000" stroke-width="2.1"/>
<line x1="111" y1="625.6" x2="111" y2="640.7" stroke="#000" stroke-width="2.1"/>
<line x1="238" y1="625.6" x2="238" y2="640.7" stroke="#000" stroke-width="2.1"/>
<line x1="354.6" y1="625.6" x2="354.6" y2="640.7" stroke="#000" stroke-width="2.1"/>
<text x="468.5" y="486" font-size="27.5"><tspan>Ni</tspan><tspan font-size="15" dy="9.6">3</tspan><tspan font-size="27.5" dy="-9.6">Cr</tspan></text>
<text x="468.4" y="523.4" font-size="27.5"><tspan>Al</tspan><tspan font-size="15" dy="9.6">3</tspan><tspan font-size="27.5" dy="-9.6">Ni</tspan></text>
<text x="470.6" y="561" font-size="27.5">NiAl</text>
<text x="471.9" y="589" font-size="27.5">Al</text>
<text x="471.4" y="616.4" font-size="27.5">Ni</text>
<text x="469.7" y="645.2" font-size="27.5">Cr</text>
<rect x="167.5" y="700" width="6.9" height="7.1" fill="#c4c4c4" stroke="#333" stroke-width="1.1"/>
<line x1="179" y1="703.2" x2="186.4" y2="703.2" stroke="#000" stroke-width="1.2"/>
<text x="187.4" y="711.3" font-size="27.6"><tspan>Ni</tspan><tspan font-size="14.5" dy="4.3">3</tspan><tspan font-size="27.6" dy="-4.3">Cr</tspan></text>
<rect x="263" y="700.7" width="7.2" height="7.3" fill="#000"/>
<line x1="273.5" y1="703.6" x2="281.8" y2="703.6" stroke="#000" stroke-width="1.2"/>
<text x="283.9" y="711.3" font-size="28"><tspan>Ni</tspan><tspan font-size="15" dy="4.5">3</tspan><tspan font-size="28" dy="-4.5">Al</tspan></text>
<circle cx="366.7" cy="702.9" r="3.6" fill="#c4c4c4" stroke="#333" stroke-width="1.1"/>
<line x1="373.6" y1="702.8" x2="382" y2="702.8" stroke="#000" stroke-width="1.2"/>
<text x="383.7" y="712.4" font-size="27.6">NiAl</text>
<circle cx="217.1" cy="745.2" r="4" fill="#000"/>
<line x1="224.7" y1="744.7" x2="233" y2="744.7" stroke="#000" stroke-width="1.2"/>
<text x="234.2" y="753.7" font-size="27.6">Al</text>
<polygon points="321.2,742.5 327.8,742.5 324.5,748.9" fill="#000"/>
<line x1="330.8" y1="744.2" x2="338.1" y2="744.2" stroke="#000" stroke-width="1.2"/>
<text x="343" y="754.3" font-size="27.6">Ni</text>
<text x="522.3" y="701.4" font-size="34">b</text>
<polyline fill="none" stroke="#069406" stroke-width="1.8" stroke-linejoin="round" points="52.3,878.6 52.6,882.1 53,879 53.3,876.6 53.6,879.9 54,875.9 54.3,875.9 54.6,881.4 54.9,882.5 55.3,880.1 55.6,874.6 55.9,879.3 56.3,876.6 56.6,875.4 56.9,878.5 57.2,879.1 57.6,878.9 57.9,878.6 58.2,882.6 58.6,881.4 58.9,877.5 59.2,876.3 59.6,880.9 59.9,881.5 60.2,882.3 60.5,875.2 60.9,881.9 61.2,882.5 61.5,875.7 61.9,881 62.2,875.8 62.5,882.3 62.9,876.1 63.2,873.9 63.5,881.1 63.9,879.3 64.2,876.6 64.5,876.2 64.8,876.1 65.2,876.8 65.5,882.4 65.8,877.4 66.2,876.7 66.5,881.5 66.8,875.9 67.2,876.8 67.5,880.9 67.8,876.3 68.1,875.8 68.5,877 68.8,877.9 69.1,882.3 69.5,879.4 69.8,876.5 70.1,881.9 70.5,877 70.8,880.6 71.1,876.6 71.4,881.7 71.8,877.9 72.1,875.4 72.4,876.9 72.8,877 73.1,879.6 73.4,876.4 73.8,875.6 74.1,879.3 74.4,879.7 74.7,881.9 75.1,875.2 75.4,878.1 75.7,876.4 76.1,879.3 76.4,877.8 76.7,882.4 77,880.2 77.4,874.3 77.7,875.2 78,880.3 78.4,875.2 78.7,878.7 79,877.4 79.4,875.6 79.7,880.5 80,880.5 80.3,880.9 80.7,877.7 81,881.7 81.3,878.1 81.7,881.4 82,879.7 82.3,879.3 82.7,875.6 83,882.4 83.3,880.4 83.7,880.4 84,878.3 84.3,875.6 84.6,875.2 85,878.5 85.3,880.1 85.6,879.5 86,875.6 86.3,877.2 86.6,876.4 87,881.6 87.3,878.2 87.6,877.3 87.9,876.3 88.3,880.8 88.6,881.4 88.9,879.1 89.3,875.8 89.6,881 89.9,880 90.2,876.8 90.6,878.1 90.9,876.3 91.2,879.3 91.6,877 91.9,881.9 92.2,872.9 92.6,882.9 92.9,879.7 93.2,876.7 93.5,874.6 93.9,877.5 94.2,880.4 94.5,873.4 94.9,878.8 95.2,878.8 95.5,880 95.9,879 96.2,877.4 96.5,873.9 96.8,879 97.2,875.6 97.5,878.6 97.8,877.9 98.2,876.1 98.5,881.8 98.8,879.8 99.2,873.7 99.5,877.2 99.8,875.1 100.2,878.6 100.5,878.9 100.8,876.5 101.1,876.7 101.5,875.8 101.8,872.3 102.1,877.6 102.5,873.8 102.8,871.6 103.1,874.7 103.5,868 103.8,870.1 104.1,868 104.4,870.2 104.8,866.3 105.1,860.4 105.4,856.3 105.8,856.4 106.1,856.4 106.4,855.1 106.8,856.1 107,850 107.1,847.9 107.4,848.8 107.7,852.5 108.1,855.8 108.4,853.8 108.7,859.8 109.1,856.9 109.4,864 109.7,862.1 110,862.3 110.4,863.3 110.7,864.7 111,860.1 111,859.1 111.4,858.4 111.7,858 112,853.2 112.4,853.5 112.7,845.7 113,845 113,842.1 113.3,844.9 113.7,840.2 114,835.9 114.3,839 114.7,837 115,829.3 115.3,831.9 115.7,829.8 115.7,831 116,830 116.3,833.8 116.7,839.6 117,846.9 117.3,851 117.6,857 118,858.9 118.3,865.6 118.6,869.9 119,872.1 119.3,872.8 119.6,875.1 120,871.6 120.3,871.6 120.6,877 120.9,872.6 121.3,871.9 121.6,877.6 121.9,877.6 122.3,875 122.6,872.4 122.9,877.5 123.2,882.2 123.6,876.5 123.9,876.7 124.2,872.9 124.6,872 124.9,877.5 125.2,877.7 125.6,875 125.9,879.9 126.2,882.9 126.5,874.3 126.9,877.4 127.2,876.5 127.5,877.9 127.9,879.1 128.2,879.4 128.5,875.6 128.9,879.8 129.2,875.8 129.5,878.3 129.8,881 130.2,879.7 130.5,879.1 130.8,878.9 131.2,881.8 131.5,876.4 131.8,880 132.2,880.5 132.5,880.9 132.8,879.2 133.2,879.4 133.5,879.7 133.8,875 134.1,871.8 134.5,875.6 134.8,872.1 135,874 135.1,875.3 135.5,875.7 135.8,875.5 136.1,879.8 136.4,878.3 136.8,883.5 137.1,878.7 137.4,876.3 137.8,875 138.1,876.8 138.4,876.6 138.8,878.8 139.1,881.9 139.4,882.2 139.8,882.4 140.1,879.2 140.4,875.2 140.7,876 141.1,876.1 141.4,879.9 141.7,881.8 142.1,878.7 142.4,877.5 142.7,879.7 143.1,876.9 143.4,875.9 143.7,875.3 144,875.9 144.4,877.6 144.7,881.6 145,882 145.4,875.2 145.7,877.8 146,881.8 146.3,878.4 146.7,879.8 147,881.7 147.3,879.3 147.7,878.8 148,874 148.3,877.6 148.7,876.5 149,875.8 149.3,875.7 149.7,875.6 150,875.1 150.3,870.5 150.6,862.6 151,864.1 151.3,857.4 151.6,856.8 152,854.1 152.2,853 152.3,854.9 152.6,852.5 152.9,860 153.3,854.5 153.6,862.2 153.9,868.9 154.3,870.8 154.6,869.6 154.9,874.9 155.3,874.8 155.6,874.5 155.9,879 156.2,872.3 156.6,880.2 156.9,880 157.2,877.6 157.6,880.5 157.9,879.5 158.2,877.1 158.6,880.2 158.9,877.9 159.2,875.5 159.6,873.2 159.9,879 160.2,880 160.5,882.1 160.9,876.5 161.2,875.6 161.5,880.3 161.9,877.1 162.2,877.7 162.5,877 162.8,880.3 163.2,881.8 163.5,881.8 163.8,881 164.2,877.4 164.5,882 164.8,876.9 165.2,877.8 165.5,878 165.8,876.6 166.2,881 166.5,881.3 166.8,876.4 167.1,881.6 167.5,875.3 167.8,879.2 168.1,882.3 168.5,882.7 168.8,879.2 169.1,873.6 169.4,880.6 169.8,875.8 170.1,876.2 170.4,880 170.8,876.8 171.1,879 171.4,878.1 171.8,882.3 172.1,878.8 172.4,880.5 172.8,882 173.1,881.3 173.4,881.5 173.7,881.4 174.1,882.3 174.4,879.1 174.7,881.1 175.1,878.3 175.4,880.7 175.7,878 176.1,876.7 176.4,877.4 176.7,875.6 177,876.1 177.4,880.9 177.7,875.7 178,879.5 178.4,873.1 178.7,876.6 179,877 179.3,879.6 179.7,876.6 180,876.5 180.3,877.5 180.7,881.3 181,877.1 181.3,882 181.7,879.3 182,878.8 182.3,875.6 182.7,881.2 183,879.1 183.3,877.3 183.6,880.1 184,875.3 184.3,878 184.6,880.5 185,876.4 185.3,877.6 185.6,881.7 185.9,879.9 186.3,877.2 186.6,876.3 186.9,875.2 187.3,881.5 187.6,875.8 187.9,881.7 188.3,878.8 188.6,882.3 188.9,881.6 189.2,881.1 189.6,884.2 189.9,881.4 190.2,879.3 190.6,876.4 190.9,877.5 191.2,875.8 191.6,878.7 191.9,877.9 192.2,876 192.6,878.7 192.9,881.4 193.2,875.3 193.5,880.5 193.9,879.4 194.2,875.3 194.5,881.2 194.9,879.8 195.2,878 195.5,877.5 195.8,878.1 196.2,877.1 196.5,880.7 196.8,882.2 197.2,880.6 197.5,883.1 197.8,874.4 198.2,880.3 198.5,876.6 198.8,881.4 199.2,875.9 199.5,876.4 199.8,877.8 200.1,882.1 200.5,879 200.8,880.9 201.1,878.1 201.5,877.8 201.8,878.2 202.1,882.5 202.4,880.1 202.8,875.4 203.1,877.8 203.4,876 203.8,879 204.1,881.4 204.4,876.4 204.8,881.9 205.1,877.9 205.4,876.3 205.8,882.6 206.1,880.5 206.4,876.7 206.7,879.9 207.1,875.9 207.4,879.5 207.7,877.7 208.1,877.9 208.4,876.2 208.7,876.3 209.1,879.3 209.4,879.4 209.7,882 210,881.3 210.4,876.2 210.7,877.4 211,877 211.4,881.4 211.7,879.6 212,875.5 212.3,882.6 212.7,880.1 213,880.2 213.3,878.1 213.7,882.8 214,876.7 214.3,876.3 214.7,879.5 215,879.1 215.3,879.5 215.7,880.7 216,880.2 216.3,882.4 216.6,878.7 217,879.9 217.3,880.9 217.6,878.8 218,881.5 218.3,878.3 218.6,879.4 218.9,879.1 219.3,878.4 219.6,876.7 219.9,880.6 220.3,880.7 220.6,880.8 220.9,880.1 221.3,876.2 221.6,879 221.9,875.6 222.2,879.1 222.6,877.5 222.9,875.6 223.2,882 223.6,880.2 223.9,878.4 224.2,876.9 224.6,879.4 224.9,876 225.2,876.2 225.6,884.6 225.9,877 226.2,876.7 226.5,881.9 226.9,878.2 227.2,880 227.5,875.5 227.9,877.5 228.2,882.1 228.5,878.7 228.8,877.4 229.2,881.9 229.5,881.4 229.8,878.7 230.2,881.7 230.5,876.7 230.8,876.6 231.2,873.2 231.5,880.6 231.8,881.9 232.2,880.5 232.5,880.3 232.8,878.2 233.1,876.8 233.5,880.4 233.8,876.5 234.1,880.1 234.5,877.9 234.8,881.7 235.1,876.8 235.4,881.9 235.8,877.1 236.1,875.7 236.4,878.2 236.8,879 237.1,879.3 237.4,876.6 237.8,875.2 238.1,879.9 238.4,876.1 238.8,875 239.1,883 239.4,876 239.7,874.8 240.1,874.9 240.4,874.5 240.7,872.3 241.1,874.8 241.4,872.3 241.7,873.4 241.8,872 242.1,875.4 242.4,874.5 242.7,873.8 243,873.3 243.4,876.6 243.7,873.3 244,873.9 244.4,876.6 244.7,877.9 245,878.1 245.3,875.6 245.7,874.6 246,877.9 246.3,876.7 246.7,875.4 247,879.2 247.3,880.9 247.7,876.1 248,875.4 248.3,879.7 248.7,877.1 249,875.8 249.3,876.4 249.6,876.3 250,881.3 250.3,875.6 250.6,877.9 251,884.8 251.3,878.8 251.6,882.5 251.9,878.6 252.3,875.5 252.6,881.8 252.9,878.1 253.3,878 253.6,875.5 253.9,880.9 254.3,876.9 254.6,879.3 254.9,878.6 255.2,877.9 255.6,882.5 255.9,875.5 256.2,880.8 256.6,877.8 256.9,881.6 257.2,881.8 257.6,878.1 257.9,878.1 258.2,876.8 258.6,876.6 258.9,876.5 259.2,876.8 259.5,877.5 259.9,882.6 260.2,881.6 260.5,877.5 260.9,880.4 261.2,876.1 261.5,876.6 261.9,878.2 262.2,880.5 262.5,877.9 262.8,882.2 263.2,880.9 263.5,884.1 263.8,877.6 264.2,875.9 264.5,877.7 264.8,879.2 265.1,878.2 265.5,875.6 265.8,880.2 266.1,877.6 266.5,879.3 266.8,880.5 267.1,880.6 267.5,876.4 267.8,877.3 268.1,878.3 268.4,881.7 268.8,877.4 269.1,875.4 269.4,875.4 269.8,879.5 270.1,882.5 270.4,880.2 270.8,876.9 271.1,880.2 271.4,881.7 271.8,880.6 272.1,878.4 272.4,875.7 272.7,877.7 273.1,877.3 273.4,878.2 273.7,876.5 274.1,875.7 274.4,877.8 274.7,876.4 275.1,880.5 275.4,881.5 275.7,878.2 276,875.7 276.4,875.7 276.7,879.6 277,877.7 277.4,875.4 277.7,881.9 278,877.2 278.4,876.6 278.7,879.8 279,877.9 279.3,882.2 279.7,879.9 280,878.3 280.3,877.3 280.7,881.8 281,884.1 281.3,876.3 281.6,877.5 282,882.5 282.3,876.7 282.6,880.3 283,875.3 283.3,878.2 283.6,878.9 284,879.3 284.3,879.4 284.6,882.4 284.9,877.8 285.3,877.6 285.6,880.4 285.9,882.4 286.3,876.4 286.6,878.9 286.9,878 287.3,880.8 287.6,877 287.9,877.7 288.2,879.1 288.6,873.5 288.9,876 289.2,876.1 289.6,881 289.9,876.5 290.2,883.6 290.6,877.1 290.9,881.2 291.2,880.6 291.6,880.6 291.9,877.7 292.2,881.5 292.5,879.5 292.9,880.5 293.2,881.4 293.5,876.2 293.9,880.2 294.2,875 294.5,879.6 294.9,882.4 295.2,880.4 295.5,879.9 295.8,882.2 296.2,875.6 296.5,874.2 296.8,877.4 297.2,882.6 297.5,876.8 297.8,879.3 298.1,878 298.5,881.2 298.8,877.4 299.1,879.8 299.5,882.5 299.8,880.4 300.1,881.2 300.5,874.9 300.8,882.2 301.1,878.9 301.4,876.7 301.8,879.4 302.1,879.9 302.4,876.9 302.8,878 303.1,873.3 303.4,881.9 303.8,875.8 304.1,878.8 304.4,876.8 304.8,878.8 305.1,881.2 305.4,875.7 305.7,880.1 306.1,877.3 306.4,881.7 306.7,878.5 307.1,880.6 307.4,875.5 307.7,874.2 308.1,877.9 308.4,877.5 308.7,875.3 309,884.7 309.4,879.2 309.7,881.1 310,878.2 310.4,881.4 310.7,885.1 311,882.3 311.4,880.5 311.7,884.1 312,879.5 312.3,878.1 312.7,880.1 313,877.9 313.3,877.9 313.7,881.9 314,875.9 314.3,880.7 314.6,880.7 315,880.3 315.3,876 315.6,877.8 316,875.3 316.3,878.2 316.6,879.2 317,876.8 317.3,877.6 317.6,876 317.9,878.4 318.3,876.9 318.6,880.5 318.9,877.3 319.3,882.3 319.6,876.6 319.9,882.6 320.3,879.9 320.6,880 320.9,879.8 321.2,881.6 321.6,879 321.9,876.1 322.2,880.3 322.6,880.2 322.9,878.1 323.2,879.7 323.6,879.1 323.9,879.9 324.2,879.6 324.6,882.1 324.9,878.7 325.2,880.7 325.5,880.7 325.9,878.2 326.2,876.2 326.5,878.9 326.9,881.4 327.2,882.2 327.5,881.1 327.9,885.1 328.2,881.7 328.5,877.1 328.8,878.6 329.2,881.6 329.5,877.3 329.8,875.8 330.2,881 330.5,877 330.8,881.5 331.1,879.3 331.5,881.1 331.8,877.2 332.1,875.5 332.5,881.6 332.8,876.1 333.1,878.1 333.5,879.8 333.8,875.7 334.1,876.7 334.4,881.7 334.8,876.6 335.1,878 335.4,877.7 335.8,879.8 336.1,879.6 336.4,876.5 336.8,880.3 337.1,874.2 337.4,882.1 337.8,877.8 338.1,882.5 338.4,880.6 338.7,877.4 339.1,876.2 339.4,878.3 339.7,878.2 340.1,878.9 340.4,877.7 340.7,876.9 341.1,877.2 341.4,877.2 341.7,880.1 342,882 342.4,880.6 342.7,878.1 343,878.2 343.4,878.3 343.7,877.2 344,880 344.4,878.1 344.7,881.6 345,878.1 345.3,881 345.7,879.3 346,875.6 346.3,875.5 346.7,877.6 347,879.7 347.3,881.3 347.6,874.8 348,878 348.3,877.9 348.6,879.3 349,881.4 349.3,881.5 349.6,880.1 350,879 350.3,874.2 350.6,876.5 350.9,875 351.3,874.7 351.6,874 351.9,879.5 352.3,873.8 352.6,877 352.9,874 353.3,877.3 353.6,872.6 353.9,871.6 354.2,878.2 354.6,871.2 354.9,874.8 355.2,871.5 355.6,872.8 355.9,871.3 356.2,869.4 356.6,874.1 356.9,876 357,873.9 357.2,872.9 357.6,871.9 357.9,874.5 358.2,878.6 358.5,876.9 358.9,877.9 359.2,873.9 359.5,877.5 359.9,873.9 360.2,872.7 360.5,877.2 360.9,873.1 361.2,870 361.5,874.6 361.8,877.4 362.2,873.2 362.5,873.6 362.8,874 363.2,875.8 363.5,878.4 363.8,880.7 364.1,877.6 364.5,876.9 364.8,879.6 365.1,877 365.5,877.9 365.8,877.6 366.1,874.9 366.5,875 366.8,878.7 367.1,874.9 367.4,877.5 367.8,878.4 368.1,880.4 368.4,874.9 368.8,884.5 369.1,879.3 369.4,877.6 369.8,877.7 370.1,879.5 370.4,877.3 370.8,878.8 371.1,873.1 371.4,876.9 371.7,880.9 372.1,881.4 372.4,877.1 372.7,875.7 373.1,881.2 373.4,877.4 373.7,880.9 374.1,875.5 374.4,875.4 374.7,879.1 375,880.5 375.4,882 375.7,879.8 376,880.5 376.4,880.1 376.7,884 377,880.8 377.4,880.6 377.7,878.4 378,875.9 378.3,881.7 378.7,875.9 379,880 379.3,873.9 379.7,877.4 380,879.2 380.3,876.6 380.6,879 381,876 381.3,878.4 381.6,878.3 382,880 382.3,878.7 382.6,877.9 383,875.8 383.3,876.3 383.6,876.5 383.9,876.3 384.3,879.4 384.6,877.9 384.9,881.3 385.3,879.4 385.6,882.3 385.9,880.2 386.3,877 386.6,879.3 386.9,875.5 387.2,877.8 387.6,878.2 387.9,879.1 388.2,881.7 388.6,878.6 388.9,881.9 389.2,877.2 389.6,875.2 389.9,879.2 390.2,877.4 390.6,882 390.9,882.5 391.2,880.7 391.5,876.4 391.9,879.4 392.2,880.6 392.5,881.6 392.9,880 393.2,881.9 393.5,877 393.9,880.2 394.2,875.4 394.5,878.8 394.8,877 395.2,875.8 395.5,876.8 395.8,876.8 396.2,881.2 396.5,881.1 396.8,879.2 397.1,880.1 397.5,879.6 397.8,880.4 398.1,875 398.5,877.3 398.8,876.3 399.1,877.2 399.5,881.4 399.8,878.6 400.1,876.1 400.4,875.1 400.8,879.9 401.1,883 401.4,878.7 401.8,881.4 402.1,882.4 402.4,879.7 402.8,874 403.1,881 403.4,879.9 403.8,877.4 404.1,877.2 404.4,877.1 404.7,876.8 405.1,878.1 405.4,876.3 405.7,876.2 406.1,879.6 406.4,873.2 406.7,874.5 407.1,878.7 407.4,878.6 407.7,877.7 408,871.2 408.4,875.2 408.7,875.1 409,879.4 409.4,873.8 409.7,867.5 410,875.8 410.4,866.7 410.7,874.8 411,872.1 411.3,873.4 411.7,864.7 412,872.6 412.3,872.3 412.7,867.8 413,864.6 413.3,865.3 413.6,866.1 414,865.7 414.3,860.7 414.6,858.4 415,856.8 415.3,858.3 415.6,851.8 416,849.4 416.3,846.8 416.6,844 416.9,842.9 417.3,844.6 417.6,844.3 417.8,842 417.9,839 418.3,840.9 418.6,843.5 418.9,845.1 419.3,851.3 419.6,849.9 419.9,855.5 420.2,854.6 420.6,857.3 420.9,861.1 421.2,862.2 421.6,860.6 421.9,864.2 422.2,870 422.6,865.8 422.9,872.3 423.2,868.5 423.6,867.7 423.9,874.2 424.2,868.7 424.5,874.7 424.9,875.6 425.2,871.7 425.5,871.3 425.9,870.1 426.2,871.7 426.5,872.5 426.9,871.4 427.2,874.8 427.5,876.7 427.8,880.6 428.2,871.8 428.5,874.1 428.8,878.8 429.2,873.4 429.5,876.6 429.8,878.4 430.1,876.1 430.5,879.2 430.8,874.5 431.1,882.9 431.5,879 431.8,873.8 432.1,874.9 432.5,873.8 432.8,875.4 433.1,877.6 433.4,877.4 433.8,874.2 434.1,874.4 434.4,878.8 434.8,877.8 435.1,876.7 435.4,880.9 435.8,877.5 436.1,877.9 436.4,881.3 436.8,881.5 437.1,881.1 437.4,878.4 437.7,876.8 438.1,880 438.4,879 438.7,881.7 439.1,875.5 439.4,877.3 439.7,878.5 440.1,878.6 440.4,874.8 440.7,876.8 441,879.5 441.4,875.5 441.7,878.5 442,882.1 442.4,877.9 442.7,880.8 443,881.1 443.4,876.8 443.7,878.7 444,879.1 444.3,878.6 444.7,877.1 445,878.7 445.3,876.4 445.7,881.2 446,882.2 446.3,880.1 446.6,880.3 447,881 447.3,881.1 447.6,876.8 448,875.2 448.3,877.6 448.6,879.6 449,882 449.3,875.5 449.6,875.9 449.9,881.5 450.3,876.4 450.6,880.7 450.9,879.7 451.3,881.6 451.6,881.5 451.9,880.9 452.3,879.3 452.6,879.8 452.9,877.9 453.2,875.3 453.6,881 453.9,880 454.2,880.3 454.6,877.5 454.9,876.5 455.2,880.2 455.6,877.6 455.9,881.9 456.2,882.2 456.6,882.3 456.9,877.6 457.2,879 457.5,875.4 457.9,879.1 458.2,880.7 458.5,876.6 458.9,876.9 459.2,873.4 459.5,877.8"/>
<polyline fill="none" stroke="#ff0000" stroke-width="1.8" stroke-linejoin="round" points="52.3,942.7 52.6,944.2 53,939.3 53.3,941.2 53.6,944.3 54,943.3 54.3,940.3 54.6,940.4 54.9,939.6 55.3,939.7 55.6,941.6 55.9,947 56.3,939.4 56.6,942.6 56.9,945.7 57.2,938.1 57.6,935.3 57.9,934.4 58.2,932.6 58.3,930 58.6,929.4 58.9,935.7 59.2,940.8 59.6,940.4 59.9,944.1 60.2,946.1 60.5,941.6 60.9,944.2 61.2,939.9 61.5,941.8 61.9,945.2 62.2,939.4 62.5,942.4 62.9,940.8 63.2,942.1 63.5,940 63.9,940.5 64.2,939.5 64.5,941.8 64.8,939.6 65.2,940.8 65.5,942.8 65.8,942.8 66.2,940.5 66.5,941.9 66.8,944.8 67.2,939.3 67.5,944.9 67.8,939.7 68.1,939.5 68.5,946.5 68.8,943 69.1,941.6 69.5,945.4 69.8,940.9 70.1,942.8 70.5,941.2 70.8,945.9 71.1,941.4 71.4,941.3 71.8,943.1 72.1,944.5 72.4,941.3 72.8,944.3 73.1,940.2 73.4,942.3 73.8,942.5 74.1,943.4 74.4,946 74.7,944.9 75.1,943.6 75.4,945.1 75.7,941.8 76.1,944.7 76.4,939.4 76.7,945.9 77,945.9 77.4,943.2 77.7,941.4 78,941.8 78.4,946.1 78.7,943.2 79,940.1 79.4,944.4 79.7,941 80,941.6 80.3,938.4 80.7,941.5 81,944.8 81.3,946.1 81.7,939.4 82,942.5 82.3,944.1 82.7,941 83,948.5 83.3,941.9 83.7,940.7 84,940.8 84.3,942.9 84.6,940.4 85,943.7 85.3,941 85.6,945.5 86,940.9 86.3,944.8 86.6,944.2 87,946.4 87.3,944.2 87.6,944.6 87.9,942.9 88.3,941.4 88.6,940.8 88.9,939.7 89.3,945.1 89.6,946.1 89.9,942 90.2,945.8 90.6,940.1 90.9,945.4 91.2,944.9 91.6,943.7 91.9,942.1 92.2,942 92.6,945.1 92.9,940.6 93.2,946.3 93.5,939.5 93.9,945.5 94.2,941.7 94.5,941.3 94.9,945.5 95.2,940.6 95.5,939.2 95.9,939.1 96.2,940.2 96.5,941.2 96.8,940.4 97.2,945.4 97.5,939.7 97.8,942.9 98.2,942.9 98.5,944.9 98.8,943.6 99.2,943.6 99.5,942 99.8,944.2 100.2,945.7 100.5,945.2 100.8,945.9 101.1,941.9 101.5,943.2 101.8,944.9 102.1,936.9 102.5,937.1 102.8,938.6 103.1,939.4 103.5,943 103.8,945.5 104.1,947.6 104.4,939.8 104.8,941.3 105.1,942.6 105.4,939.4 105.8,932.5 106.1,930.4 106.4,923.1 106.8,908.1 107.1,884.9 107.4,867.5 107.7,846.5 108.1,840.8 108.2,840 108.4,844.3 108.7,851.5 109.1,872.8 109.4,889.3 109.7,907.8 110,919 110.4,927.7 110.7,930.3 111,938.1 111.4,932.7 111.7,930 112,931.3 112.4,927.1 112.7,922.9 113,915.6 113.3,914.5 113.7,904.1 114,894.7 114.3,888.2 114.7,883.4 115,883.1 115.3,876.1 115.5,877 115.7,876.5 116,881.6 116.3,886.4 116.7,888.4 117,900.6 117.3,901.6 117.6,909.2 118,915 118.3,923.4 118.6,927.6 119,934 119.3,936.7 119.6,935.4 120,938.9 120.3,936.6 120.6,941 120.9,941.2 121.3,942 121.6,938.3 121.9,943.9 122.3,940.4 122.6,944.3 122.9,944 123.2,940.2 123.6,940.6 123.9,936.2 124.2,940.5 124.6,939.2 124.9,941.1 125.2,942.8 125.6,939.5 125.9,944.9 126.2,945.4 126.5,941.3 126.9,945.4 127.2,942.7 127.5,940.6 127.9,947.5 128.2,943.3 128.5,945 128.9,943.6 129.2,939 129.5,941.5 129.8,939.4 130.2,942.7 130.5,945.1 130.8,943 131.2,945.2 131.5,947.7 131.8,944.9 132.2,943.6 132.5,940.6 132.8,944.9 133.2,942.9 133.5,944 133.8,943.8 134.1,940.1 134.5,938 134.8,946.3 135.1,943.5 135.5,946.2 135.8,940.4 136.1,945.4 136.4,940.7 136.8,944 137.1,943.3 137.4,944.7 137.8,944.7 138.1,944.7 138.4,938.7 138.8,943.7 139.1,939.8 139.4,942.2 139.8,943.3 140.1,943.1 140.4,945.8 140.7,945.6 141.1,948.4 141.4,941.5 141.7,944.1 142.1,940.7 142.4,948.7 142.7,940.5 143.1,945.2 143.4,946.6 143.7,942.4 144,940.6 144.4,946.3 144.7,944.1 145,940.7 145.4,937.5 145.7,942.7 146,946.1 146.3,944.2 146.7,944.9 147,946.5 147.3,944.2 147.7,940.5 148,942.5 148.3,940.7 148.7,940.5 149,941.6 149.3,944.3 149.7,942.4 150,940.7 150.3,946 150.6,944 151,943.2 151.3,941.6 151.6,940.5 152,944.6 152.3,945.8 152.6,939.9 152.9,943.7 153.3,943.3 153.6,946.5 153.9,946 154.3,941.3 154.6,941.1 154.9,939.9 155.3,940.4 155.6,946.3 155.9,944.2 156.2,939.5 156.6,940.2 156.9,942.5 157.2,939 157.6,948.1 157.9,944.7 158.2,941.5 158.6,942.5 158.9,945.5 159.2,939.9 159.6,941.4 159.9,948.2 160.2,941.7 160.5,938.6 160.9,941.2 161.2,941.2 161.5,940.1 161.9,940.5 162.2,944.7 162.5,942.5 162.8,942.3 163.2,946 163.5,940 163.8,944.4 164.2,941.2 164.5,942.7 164.8,937.7 165.2,940.9 165.5,944.3 165.8,946 166.2,944.4 166.5,945.4 166.8,945.8 167.1,942.6 167.5,944.8 167.8,941.6 168.1,945.8 168.5,945.7 168.8,942.2 169.1,944.5 169.4,938.4 169.8,940.2 170.1,949.1 170.4,942.7 170.8,941.6 171.1,940.1 171.4,940 171.8,940.3 172.1,944.6 172.4,945.3 172.8,939.5 173.1,946.5 173.4,944.6 173.7,945.1 174.1,939.9 174.4,946.4 174.7,937.8 175.1,944.8 175.4,942.8 175.7,940.6 176.1,942.4 176.4,940.4 176.7,938.1 177,942.6 177.4,944.7 177.7,944.5 178,940.5 178.4,941.9 178.7,947.5 179,946.5 179.3,949.1 179.7,945.9 180,945 180.3,944.1 180.7,945.6 181,943.3 181.3,943.9 181.7,946.2 182,941.7 182.3,941 182.7,943.2 183,939.8 183.3,940.6 183.6,940.5 184,945.8 184.3,940.9 184.6,942.3 185,940.6 185.3,941.8 185.6,942.9 185.9,946.1 186.3,939.4 186.6,940 186.9,945.1 187.3,944.6 187.6,942.6 187.9,942.7 188.3,945.4 188.6,944 188.9,945.7 189.2,943.3 189.6,940.7 189.9,939.7 190.2,940.2 190.6,944.5 190.9,942.6 191.2,942.1 191.6,939.7 191.9,940 192.2,944 192.6,943.4 192.9,940.8 193.2,946.1 193.5,942.9 193.9,945 194.2,944.9 194.5,943.5 194.9,943.5 195.2,944.9 195.5,940.2 195.8,945.4 196.2,945.1 196.5,940.9 196.8,942.8 197.2,946.3 197.5,939.3 197.8,943 198.2,946.9 198.5,946.5 198.8,943.1 199.2,941.5 199.5,939.4 199.8,945.9 200.1,943.7 200.5,945.3 200.8,944.9 201.1,943.6 201.5,945.6 201.8,940.6 202.1,942 202.4,945.2 202.8,940 203.1,941.6 203.4,942.2 203.8,945.1 204.1,944.9 204.4,940.1 204.8,940.3 205.1,942.2 205.4,944.6 205.8,940.3 206.1,941 206.4,944.8 206.7,943.6 207.1,947.4 207.4,943.6 207.7,941.3 208.1,944.3 208.4,941.7 208.7,945.9 209.1,940.6 209.4,945.6 209.7,945.9 210,941.4 210.4,941.2 210.7,940.4 211,945.4 211.4,944.8 211.7,944.5 212,943.5 212.3,943 212.7,940.1 213,945.1 213.3,944.8 213.7,945.3 214,941.5 214.3,945.3 214.7,944.6 215,943.5 215.3,942.7 215.7,945.9 216,943.8 216.3,942.7 216.6,944.1 217,941.8 217.3,940.2 217.6,945.1 218,940.5 218.3,943.9 218.6,939.9 218.9,940.9 219.3,944.6 219.6,941.8 219.9,940.9 220.3,945.8 220.6,946.4 220.9,940 221.3,942.1 221.6,942.6 221.9,939.5 222.2,943.7 222.6,943.4 222.9,945.6 223.2,943.3 223.6,940.3 223.9,942.4 224.2,940.9 224.6,941 224.9,941.5 225.2,945.7 225.6,942.3 225.9,943.5 226.2,946.3 226.5,944.9 226.9,942.3 227.2,939.5 227.5,939.3 227.9,939.9 228.2,944.3 228.5,945 228.8,946.2 229.2,945.2 229.5,945.5 229.8,946.3 230.2,949.1 230.5,942.4 230.8,943.1 231.2,943 231.5,945 231.8,941.8 232.2,942.4 232.5,942.7 232.8,943.1 233.1,942.1 233.5,943.2 233.8,943.9 234.1,942.2 234.5,946.6 234.8,946 235.1,941.8 235.4,945.4 235.8,943.7 236.1,943.7 236.4,943.2 236.8,943.8 237.1,941.7 237.4,943.6 237.8,949.1 238.1,942.3 238.4,943.6 238.8,948 239.1,943 239.4,943.7 239.7,943.9 240.1,943 240.4,943.4 240.7,946 241.1,943 241.4,945.4 241.7,944.5 242.1,942.4 242.4,944.5 242.7,943.4 243,941.9 243.4,944.8 243.7,941.4 244,943.4 244.4,940.4 244.7,945.5 245,941.8 245.3,943.4 245.7,947.6 246,941.8 246.3,946.7 246.7,942.6 247,946.5 247.3,944.8 247.7,939.7 248,940.2 248.3,942.6 248.7,942.8 249,944.8 249.3,939.4 249.6,944.3 250,939.8 250.3,939.7 250.6,943.9 251,945.1 251.3,942 251.6,947.4 251.9,946.9 252.3,946.4 252.6,944.8 252.9,944.2 253.3,940.3 253.6,946 253.9,939.7 254.3,944.5 254.6,939.5 254.9,940.1 255.2,943.1 255.6,941.7 255.9,945.1 256.2,941 256.6,940 256.9,946.2 257.2,940.8 257.6,945.7 257.9,941 258.2,940.2 258.6,942.9 258.9,942.6 259.2,942.2 259.5,942.8 259.9,940.6 260.2,946.6 260.5,941.6 260.9,938 261.2,945.2 261.5,943.9 261.9,941.8 262.2,943.1 262.5,944.7 262.8,945.3 263.2,943.8 263.5,946.3 263.8,940.7 264.2,945.4 264.5,940.3 264.8,942.3 265.1,940.6 265.5,946.3 265.8,942.1 266.1,940.2 266.5,941.6 266.8,940.3 267.1,942 267.5,945.5 267.8,942.5 268.1,943 268.4,944.9 268.8,939.2 269.1,946.6 269.4,943.1 269.8,945.1 270.1,941.5 270.4,939.8 270.8,943 271.1,936.7 271.4,941 271.8,946.4 272.1,942.9 272.4,945.9 272.7,944 273.1,946.2 273.4,941.1 273.7,946.1 274.1,942.1 274.4,946.7 274.7,945.2 275.1,938.2 275.4,942.6 275.7,940.6 276,940.6 276.4,946.6 276.7,936.9 277,943.2 277.4,945 277.7,941.1 278,946.5 278.4,944.2 278.7,942.5 279,944 279.3,941.8 279.7,939.6 280,944.4 280.3,943.3 280.7,941.6 281,944.5 281.3,939.7 281.6,942 282,945.9 282.3,942.6 282.6,940 283,943.7 283.3,944.7 283.6,941.2 284,943 284.3,942.6 284.6,939.4 284.9,945.8 285.3,940.7 285.6,944.2 285.9,941.9 286.3,941.1 286.6,937.1 286.9,939.4 287.3,946 287.6,942.7 287.9,943.2 288.2,939.6 288.6,941 288.9,943.2 289.2,941.1 289.6,939.9 289.9,946.4 290.2,941.5 290.6,945.8 290.9,942.9 291.2,937.1 291.6,945.1 291.9,944.2 292.2,940 292.5,936.5 292.9,944.1 293.2,941.9 293.5,945.3 293.9,940.4 294.2,939.9 294.5,945.6 294.9,943.3 295.2,940.2 295.5,941.9 295.8,940.1 296.2,944.8 296.5,944.5 296.8,944 297.2,938.6 297.5,939.5 297.8,943.9 298.1,944.4 298.5,944.4 298.8,942.2 299.1,939 299.5,940 299.8,941.8 300.1,941.9 300.5,941.7 300.8,942.6 301.1,941.8 301.4,938.4 301.8,935.5 302.1,937 302.4,935.9 302.8,932 303.1,930.1 303.4,928.4 303.8,929.3 304.1,930 304.4,927.9 304.8,918.2 305.1,919.7 305.4,914 305.6,916 305.7,921.4 306.1,914.2 306.4,918.2 306.7,925.1 307.1,923.4 307.4,921.9 307.7,932.6 308.1,931.1 308.4,936.5 308.7,934.6 309,932.9 309.4,935 309.7,941.1 310,940.4 310.4,938.1 310.7,941.1 311,938.8 311.4,937.8 311.7,943.7 312,942.6 312.3,940 312.7,943.4 313,941.6 313.3,942.9 313.7,938.7 314,939.5 314.3,942.3 314.6,945.3 315,939.9 315.3,948 315.6,939.8 316,946.7 316.3,942.6 316.6,943.4 317,943.6 317.3,942.4 317.6,943.5 317.9,939.6 318.3,942 318.6,940.4 318.9,945 319.3,942.2 319.6,945.1 319.9,939.2 320.3,940.7 320.6,939.7 320.9,945.3 321.2,946.7 321.6,940.1 321.9,940.8 322.2,941.8 322.6,944.8 322.9,940.8 323.2,945.2 323.6,939.9 323.9,940.8 324.2,942.1 324.6,944.6 324.9,940.2 325.2,942.8 325.5,946.2 325.9,939.6 326.2,940.7 326.5,943.6 326.9,942 327.2,946.2 327.5,941.9 327.9,944.1 328.2,945.1 328.5,939.8 328.8,941.6 329.2,939.7 329.5,939.9 329.8,942.8 330.2,941.6 330.5,940.5 330.8,942.8 331.1,946.1 331.5,939.8 331.8,945.6 332.1,943 332.5,941 332.8,946.2 333.1,941.6 333.5,945.8 333.8,944.6 334.1,942.9 334.4,946.1 334.8,944.3 335.1,941.5 335.4,939.7 335.8,944.4 336.1,945.4 336.4,941.6 336.8,945.9 337.1,941.5 337.4,946.2 337.8,940.4 338.1,944.3 338.4,941.1 338.7,943.5 339.1,940.3 339.4,937.8 339.7,943.5 340.1,944.2 340.4,945.4 340.7,945.9 341.1,945.2 341.4,941.2 341.7,943.1 342,945.6 342.4,945.8 342.7,939.3 343,948.8 343.4,941.8 343.7,943.9 344,945.4 344.4,945.5 344.7,943.7 345,942 345.3,946.2 345.7,938.9 346,937.9 346.3,945.3 346.7,941.7 347,938.9 347.3,939.1 347.6,940.5 348,945.7 348.3,946.3 348.6,943.6 349,944.5 349.3,940.7 349.6,939.6 350,941.3 350.3,939.5 350.6,939.3 350.9,941.1 351.3,936.8 351.6,937.9 351.9,942.1 352.3,943.8 352.6,936.7 352.9,936.2 353.3,941.5 353.6,935.9 353.9,938.6 354.2,934 354.6,940 354.9,933.5 355.2,932.2 355.6,939.4 355.9,933.6 356.2,936.9 356.6,932.6 356.9,934 357.2,937.1 357.3,934.9 357.6,934.4 357.9,934.8 358.2,932.4 358.5,935.4 358.9,935.3 359.2,936.8 359.5,934 359.9,934.2 360.2,934.6 360.5,934.1 360.9,934.6 361.2,941 361.5,937.8 361.8,939.7 362.2,941 362.5,936.5 362.8,937.8 363.2,944.6 363.5,941.2 363.8,940.4 364.1,944.7 364.5,943.3 364.8,944.6 365.1,943.7 365.5,938.3 365.8,940.7 366.1,938.6 366.5,941.1 366.8,941.3 367.1,943.6 367.4,940.5 367.8,941.6 368.1,939.8 368.4,940.1 368.8,942.6 369.1,942.6 369.4,940.5 369.8,945.1 370.1,941.1 370.4,946.3 370.8,942.7 371.1,939.4 371.4,940.5 371.7,939.9 372.1,939.9 372.4,944.9 372.7,944.2 373.1,944.3 373.4,940.5 373.7,941.5 374.1,945.2 374.4,945.3 374.7,943.5 375,943.7 375.4,940.5 375.7,939.7 376,946.3 376.4,941.2 376.7,941.4 377,944.5 377.4,943.4 377.7,938.7 378,939.8 378.3,945.3 378.7,940.5 379,941.8 379.3,945.7 379.7,943.2 380,941.2 380.3,939.9 380.6,945.4 381,942.8 381.3,942.9 381.6,943.9 382,945.5 382.3,940.2 382.6,941.4 383,943.8 383.3,943.5 383.6,940.9 383.9,940.6 384.3,942.4 384.6,943.5 384.9,939.8 385.3,944.8 385.6,944.1 385.9,941.6 386.3,939.7 386.6,941.6 386.9,940.5 387.2,940.6 387.6,939.9 387.9,939.5 388.2,945.4 388.6,943.7 388.9,943.5 389.2,939.3 389.6,939.3 389.9,945.3 390.2,944.6 390.6,940.4 390.9,940.4 391.2,946 391.5,944.8 391.9,937.8 392.2,940.8 392.5,947.7 392.9,943 393.2,942.4 393.5,942.3 393.9,940.3 394.2,942.8 394.5,939 394.8,942.3 395.2,941.9 395.5,946.3 395.8,939.2 396.2,939.7 396.5,943.1 396.8,942.2 397.1,941.6 397.5,940.8 397.8,943.9 398.1,943.3 398.5,940.3 398.8,942 399.1,941 399.5,942 399.8,939.3 400.1,939.7 400.4,939.4 400.8,940.9 401.1,939.6 401.4,940.8 401.8,942 402.1,942.6 402.4,945.2 402.8,944.1 403.1,945.1 403.4,942.8 403.8,944 404.1,940.2 404.4,942 404.7,940.3 405.1,940.7 405.4,941.9 405.7,940.5 406.1,943.4 406.4,946.3 406.7,936.9 407.1,942.8 407.4,936.8 407.7,940.8 408,936 408.4,940.3 408.7,942.1 409,939 409.4,937.2 409.7,939 410,939.9 410.4,936.6 410.7,934.4 411,938.4 411.3,937.1 411.7,931 412,933.2 412.3,936.1 412.7,935.8 413,929.8 413.3,932.8 413.6,925.9 414,927.9 414.3,927.1 414.6,920.3 415,918.4 415.3,915.7 415.6,913.2 416,910.3 416.3,913.3 416.6,910 416.9,905.7 417.2,907.5 417.3,905 417.6,905 417.9,906.4 418.3,912.2 418.6,915.2 418.9,917.7 419.3,916.1 419.6,917.1 419.9,921 420.2,922 420.6,926.7 420.9,931.5 421.2,932.2 421.6,934.7 421.9,936.7 422.2,933.7 422.6,932.1 422.9,936.8 423.2,936.1 423.6,935.9 423.9,933.8 424.2,935.3 424.5,937.4 424.9,936.1 425.2,941.9 425.5,942 425.9,935.6 426.2,943 426.5,941.3 426.9,943.4 427.2,942.9 427.5,937 427.8,939.1 428.2,939.2 428.5,943.8 428.8,941.3 429.2,940.4 429.5,942.6 429.8,942.9 430.1,941.7 430.5,943.7 430.8,945 431.1,944.1 431.5,944.3 431.8,941.3 432.1,938.4 432.5,938.9 432.8,943.8 433.1,943.8 433.4,943.2 433.8,941.6 434.1,944.2 434.4,945.2 434.8,942.1 435.1,942 435.4,946.1 435.8,939.9 436.1,944.2 436.4,939.6 436.8,941.7 437.1,944.5 437.4,943.2 437.7,944.8 438.1,940.2 438.4,941.3 438.7,945.2 439.1,940.6 439.4,945.8 439.7,945.6 440.1,946.2 440.4,944.9 440.7,945.9 441,944 441.4,943.2 441.7,945 442,944.2 442.4,945 442.7,944.7 443,945.8 443.4,946.1 443.7,942.9 444,946 444.3,941.4 444.7,942.6 445,941.5 445.3,943.6 445.7,937.8 446,944.5 446.3,945.1 446.6,945.5 447,943.7 447.3,940.3 447.6,946.4 448,940.9 448.3,941 448.6,936.5 449,943.6 449.3,944.6 449.6,943.5 449.9,941.6 450.3,942.3 450.6,940.6 450.9,946.1 451.3,946.9 451.6,943.8 451.9,942 452.3,944.2 452.6,942 452.9,942.9 453.2,940.4 453.6,943.7 453.9,944.4 454.2,946.1 454.6,939 454.9,946 455.2,944.1 455.6,940.3 455.9,944.4 456.2,945.8 456.6,939.8 456.9,941.8 457.2,942.9 457.5,943.3 457.9,945.5 458.2,941.1 458.5,945.3 458.9,935.3 459.2,943.3 459.5,940"/>
<polyline fill="none" stroke="#1212ff" stroke-width="1.8" stroke-linejoin="round" points="52.3,1009.1 52.6,1012.3 53,1008.6 53.3,1008.3 53.6,1012.6 54,1011.1 54.3,1009.3 54.6,1013.3 54.9,1007.1 55.3,1008 55.6,1012.9 55.9,1012.9 56.3,1013.6 56.6,1008 56.9,1008.5 57.2,1006.2 57.6,999.4 57.9,991.2 58.2,991.5 58.3,989 58.6,995 58.9,998.3 59.2,1001.4 59.6,1007.4 59.9,1007.3 60.2,1008.3 60.5,1011.2 60.9,1007.8 61.2,1008.7 61.5,1008.4 61.9,1007.6 62.2,1014.1 62.5,1012.4 62.9,1007.5 63.2,1013.1 63.5,1011.9 63.9,1010.2 64.2,1013.7 64.5,1008.7 64.8,1010 65.2,1008.2 65.5,1011.7 65.8,1008.8 66.2,1011.5 66.5,1009.9 66.8,1009.8 67.2,1008.5 67.5,1008.1 67.8,1007.8 68.1,1011.4 68.5,1007.5 68.8,1009 69.1,1007.3 69.5,1008.2 69.8,1009.2 70.1,1007.8 70.5,1010 70.8,1007.3 71.1,1010.9 71.4,1011.1 71.8,1012.2 72.1,1007.5 72.4,1014 72.8,1009.2 73.1,1013.5 73.4,1011.6 73.8,1009.1 74.1,1008.8 74.4,1007.5 74.7,1007.9 75.1,1012.2 75.4,1013 75.7,1010.8 76.1,1009.7 76.4,1010.5 76.7,1015.5 77,1013.4 77.4,1009.5 77.7,1007.5 78,1009.9 78.4,1013.7 78.7,1007.6 79,1008.2 79.4,1009.7 79.7,1011.3 80,1007.3 80.3,1013.7 80.7,1010.8 81,1009.8 81.3,1008.8 81.7,1012.2 82,1011.1 82.3,1010.5 82.7,1011.9 83,1016 83.3,1008.3 83.7,1013.3 84,1009.5 84.3,1008.4 84.6,1005.3 85,1013.8 85.3,1012.6 85.6,1014.7 86,1010.4 86.3,1013.4 86.6,1009.4 87,1008.1 87.3,1014.6 87.6,1009.2 87.9,1010.3 88.3,1007.5 88.6,1009.7 88.9,1009.1 89.3,1013.6 89.6,1014.6 89.9,1010.8 90.2,1010.7 90.6,1011.2 90.9,1010 91.2,1008.6 91.6,1007.5 91.9,1006.9 92.2,1011.6 92.6,1013.8 92.9,1011.1 93.2,1008.8 93.5,1012 93.9,1016.7 94.2,1013.6 94.5,1013.4 94.9,1007.6 95.2,1014.1 95.5,1010.8 95.9,1009 96.2,1007.3 96.5,1012.8 96.8,1007.4 97.2,1012.4 97.5,1013.9 97.8,1007.9 98.2,1014.1 98.5,1013.3 98.8,1012.5 99.2,1011.5 99.5,1008.1 99.8,1012 100.2,1011.9 100.5,1010.9 100.8,1013.6 101.1,1013.1 101.5,1011.3 101.8,1014 102.1,1014.1 102.5,1012 102.8,1012.1 103.1,1007.6 103.5,1010 103.8,1012.7 104.1,1010.2 104.4,1011 104.8,1007.4 105.1,1007.8 105.4,1008.9 105.8,1008.1 106.1,1008.7 106.4,1016 106.8,1006.9 107.1,1005.3 107.4,1001 107.7,979.9 108.1,930.9 108.4,855.7 108.7,788.2 108.9,776 109.1,787.2 109.4,855.1 109.7,928.5 110,982.1 110.4,1004.1 110.7,1008.9 111,1007.7 111.4,1006.4 111.7,1007.7 112,1004.1 112.4,999.8 112.7,995.1 113,993.1 113.3,981.4 113.7,964.7 114,955.7 114.3,952.6 114.4,951 114.7,953.2 115,961 115.3,973.2 115.7,991.1 116,992.3 116.3,1003.8 116.7,1004.6 117,1003.5 117.3,1006.4 117.6,1014.1 118,1008.3 118.3,1012.7 118.6,1011.6 119,1010.9 119.3,1012.3 119.6,1012.2 120,1010.6 120.3,1011.2 120.6,1006.8 120.9,1009.3 121.3,1008.9 121.6,1009.8 121.9,1011.3 122.3,1012.7 122.6,1010.9 122.9,1012.3 123.2,1013.6 123.6,1011.1 123.9,1008.8 124.2,1010.7 124.6,1007.3 124.9,1012.5 125.2,1013.3 125.6,1012.8 125.9,1011.6 126.2,1010.1 126.5,1012.5 126.9,1009.8 127.2,1012.3 127.5,1012.5 127.9,1010.1 128.2,1008.1 128.5,1007.8 128.9,1011.5 129.2,1014.1 129.5,1010.9 129.8,1013 130.2,1007.6 130.5,1010.3 130.8,1013.6 131.2,1007.4 131.5,1008.6 131.8,1010.8 132.2,1008.2 132.5,1013.6 132.8,1011.3 133.2,1012.3 133.5,1012.1 133.8,1011.6 134.1,1010.4 134.5,1013.6 134.8,1011 135.1,1011.6 135.5,1007.3 135.8,1012.5 136.1,1012.1 136.4,1008.2 136.8,1011.8 137.1,1008.2 137.4,1011 137.8,1012.4 138.1,1007.7 138.4,1010.9 138.8,1011.7 139.1,1009.4 139.4,1013.9 139.8,1010.4 140.1,1012 140.4,1009 140.7,1010.5 141.1,1009.1 141.4,1013 141.7,1007 142.1,1011.3 142.4,1008.8 142.7,1012.1 143.1,1008 143.4,1009.9 143.7,1015.5 144,1009.6 144.4,1011.8 144.7,1008.1 145,1013.3 145.4,1012 145.7,1012 146,1009.1 146.3,1009.1 146.7,1012.1 147,1012.8 147.3,1013.3 147.7,1010.7 148,1010.2 148.3,1007.7 148.7,1008.3 149,1006 149.3,1005.8 149.7,1004.3 150,1003.3 150.3,999.6 150.6,997.5 151,989.2 151.3,988.9 151.6,986.9 152,974 152.3,975.3 152.6,972 152.6,973.8 152.9,976.5 153.3,982.8 153.6,979.4 153.9,989.3 154.3,990.7 154.6,997.3 154.9,998 155.3,1000.6 155.6,1004.9 155.9,1009.8 156.2,1010 156.6,1010.7 156.9,1012.7 157.2,1006.4 157.6,1006.6 157.9,1012.8 158.2,1008.6 158.6,1007 158.9,1011.4 159.2,1007.5 159.6,1007.5 159.9,1009.2 160.2,1007.5 160.5,1009.8 160.9,1010.7 161.2,1011.9 161.5,1010.4 161.9,1009.9 162.2,1010 162.5,1009.2 162.8,1010.4 163.2,1008.1 163.5,1009.6 163.8,1011.6 164.2,1009.7 164.5,1010.1 164.8,1016.4 165.2,1008.7 165.5,1014 165.8,1015.3 166.2,1012.4 166.5,1013.4 166.8,1010.8 167.1,1008.7 167.5,1013.5 167.8,1010.4 168.1,1008.6 168.5,1013.4 168.8,1009.9 169.1,1009.7 169.4,1009.1 169.8,1008.6 170.1,1008.3 170.4,1012 170.8,1009.1 171.1,1012 171.4,1007.9 171.8,1010.6 172.1,1009.8 172.4,1009.1 172.8,1007.6 173.1,1014.9 173.4,1010.3 173.7,1008.7 174.1,1014.3 174.4,1009.7 174.7,1010.1 175.1,1010.3 175.4,1010.2 175.7,1010.5 176.1,1013.8 176.4,1009.1 176.7,1010.8 177,1010.7 177.4,1012.6 177.7,1009.9 178,1013.4 178.4,1013.7 178.7,1010.3 179,1009.2 179.3,1014.1 179.7,1007.8 180,1010.4 180.3,1013.6 180.7,1009.4 181,1014.2 181.3,1012.8 181.7,1010.8 182,1014 182.3,1012.8 182.7,1013.7 183,1007.8 183.3,1011.3 183.6,1009 184,1008.8 184.3,1007.4 184.6,1016.8 185,1008 185.3,1014 185.6,1009.4 185.9,1012.6 186.3,1010.5 186.6,1007.9 186.9,1013.7 187.3,1010.8 187.6,1013.7 187.9,1006.4 188.3,1012.1 188.6,1011.2 188.9,1014.2 189.2,1011.8 189.6,1009.8 189.9,1011.3 190.2,1007.7 190.6,1007.4 190.9,1008.5 191.2,1011.6 191.6,1010.3 191.9,1007.3 192.2,1011.6 192.6,1015 192.9,1010.4 193.2,1011.9 193.5,1013.3 193.9,1007.7 194.2,1006.3 194.5,1004.6 194.9,1004.8 195,1005 195.2,1003 195.5,1005.3 195.8,1008.8 196.2,1008.1 196.5,1006.7 196.8,1006.8 197.2,1009.9 197.5,1010 197.8,1010.3 198.2,1008.3 198.5,1012.4 198.8,1009.9 199.2,1013.3 199.5,1011.4 199.8,1009.5 200.1,1007.6 200.5,1013.9 200.8,1012.1 201.1,1010.2 201.5,1009.1 201.8,1012.3 202.1,1013 202.4,1007.5 202.8,1010.7 203.1,1009 203.4,1012.1 203.8,1013.1 204.1,1010.3 204.4,1013.6 204.8,1012.2 205.1,1012 205.4,1009.6 205.8,1013.8 206.1,1012.1 206.4,1009.6 206.7,1011.2 207.1,1012.1 207.4,1010.2 207.7,1012.5 208.1,1011.4 208.4,1013.9 208.7,1007.6 209.1,1008 209.4,1011 209.7,1007.6 210,1014.4 210.4,1010.7 210.7,1008.2 211,1011.4 211.4,1011 211.7,1014.5 212,1009.7 212.3,1011.8 212.7,1008.2 213,1011.4 213.3,1008.9 213.7,1011.5 214,1008.6 214.3,1011.4 214.7,1009.6 215,1006.1 215.3,1007.7 215.7,1009.1 216,1008.1 216.3,1007.5 216.6,1011.2 217,1015.9 217.3,1007.6 217.6,1007.6 218,1008.3 218.3,1014.3 218.6,1014.6 218.9,1010.1 219.3,1008.9 219.6,1010.3 219.9,1009.5 220.3,1014.6 220.6,1011 220.9,1016.6 221.3,1015.8 221.6,1008 221.9,1010 222.2,1014.3 222.6,1012.1 222.9,1008.2 223.2,1014.1 223.6,1013.7 223.9,1012.3 224.2,1012 224.6,1007.7 224.9,1011.6 225.2,1011.9 225.6,1009.1 225.9,1010.8 226.2,1009 226.5,1012.7 226.9,1008.4 227.2,1009.9 227.5,1014.4 227.9,1013.1 228.2,1013.1 228.5,1014.2 228.8,1008.8 229.2,1008.2 229.5,1011.3 229.8,1014 230.2,1010.9 230.5,1014.2 230.8,1010.1 231.2,1009.5 231.5,1006.1 231.8,1007.4 232.2,1010.8 232.5,1010.8 232.8,1008.9 233.1,1009.1 233.5,1014.9 233.8,1007.3 234.1,1014.4 234.5,1011.4 234.8,1011 235.1,1012.3 235.4,1011.5 235.8,1010.8 236.1,1011.1 236.4,1012.6 236.8,1009.1 237.1,1013 237.4,1013.3 237.8,1011.5 238.1,1014.1 238.4,1008.3 238.8,1011.8 239.1,1012.1 239.4,1013.4 239.7,1010.1 240.1,1011.9 240.4,1014.7 240.7,1009.8 241.1,1011.6 241.4,1009.6 241.7,1012.7 242.1,1010.7 242.4,1011.9 242.7,1012.3 243,1009.1 243.4,1007.3 243.7,1007.4 244,1009.3 244.4,1012.8 244.7,1013.2 245,1008.8 245.3,1011.5 245.7,1009.9 246,1007.5 246.3,1010.2 246.7,1012.1 247,1009.9 247.3,1012.4 247.7,1010 248,1011.7 248.3,1008.3 248.7,1008.8 249,1013 249.3,1012.7 249.6,1012.1 250,1008.8 250.3,1011.7 250.6,1011.3 251,1011 251.3,1013.7 251.6,1010.6 251.9,1007.6 252.3,1008 252.6,1013.2 252.9,1007.6 253.3,1009.5 253.6,1011.6 253.9,1008 254.3,1009.7 254.6,1013.2 254.9,1009.4 255.2,1013 255.6,1013.9 255.9,1007.7 256.2,1013.9 256.6,1014.5 256.9,1012.3 257.2,1009.9 257.6,1009.7 257.9,1014.2 258.2,1009 258.6,1008.4 258.9,1010.3 259.2,1013.3 259.5,1008.8 259.9,1012.3 260.2,1011 260.5,1012.2 260.9,1013.5 261.2,1009.2 261.5,1014.2 261.9,1010.8 262.2,1005.7 262.5,1010.3 262.8,1012 263.2,1011.1 263.5,1012.7 263.8,1008.8 264.2,1010.7 264.5,1012.5 264.8,1012.9 265.1,1012.2 265.5,1011.4 265.8,1008.1 266.1,1010.4 266.5,1008.7 266.8,1008.1 267.1,1007.9 267.5,1012.8 267.8,1009.2 268.1,1013.9 268.4,1011.4 268.8,1010.8 269.1,1011.7 269.4,1011.9 269.8,1008.9 270.1,1008.9 270.4,1010.3 270.8,1007.4 271.1,1010.8 271.4,1013 271.8,1008.3 272.1,1012.2 272.4,1008.2 272.7,1009 273.1,1009.3 273.4,1007.7 273.7,1013.5 274.1,1006.2 274.4,1014 274.7,1011.3 275.1,1004.9 275.4,1008.8 275.7,1008.1 276,1013.1 276.4,1013 276.7,1010.8 277,1012.2 277.4,1012.1 277.7,1014.1 278,1012.4 278.4,1010 278.7,1013.2 279,1009.7 279.3,1010.2 279.7,1016 280,1007.6 280.3,1008.5 280.7,1007.2 281,1010.1 281.3,1012.7 281.6,1008.6 282,1007.6 282.3,1007.6 282.6,1010.7 283,1014.1 283.3,1012 283.6,1007.7 284,1009.7 284.3,1012.7 284.6,1010.1 284.9,1007.9 285.3,1012.5 285.6,1010.4 285.9,1011.9 286.3,1012.1 286.6,1013.4 286.9,1010.4 287.3,1008.4 287.6,1010.9 287.9,1014 288.2,1013.2 288.6,1011.4 288.9,1010 289.2,1008.5 289.6,1011.3 289.9,1013.4 290.2,1011 290.6,1013.7 290.9,1014.1 291.2,1007.9 291.6,1010.7 291.9,1013.5 292.2,1014.2 292.5,1008.1 292.9,1013.2 293.2,1012.6 293.5,1009.8 293.9,1012.1 294.2,1012.6 294.5,1008.4 294.9,1007.6 295.2,1011.9 295.5,1011 295.8,1011.7 296.2,1013.8 296.5,1008.8 296.8,1009 297.2,1012.6 297.5,1013.3 297.8,1008.8 298.1,1013.3 298.5,1007 298.8,1011.2 299.1,1008.2 299.5,1011.5 299.8,1005.4 300.1,1006.6 300.5,1005.6 300.8,1006.4 301.1,1007.9 301.4,1006.1 301.8,1008.9 302.1,1002.8 302.4,1003.4 302.8,1003.9 303.1,1002.6 303.4,999.1 303.8,996 304.1,996.1 304.4,996.2 304.8,986.6 305.1,986.7 305.4,980.7 305.7,977.5 306,976 306.1,973.6 306.4,980.1 306.7,979.9 307.1,984 307.4,986.7 307.7,993.3 308.1,995.5 308.4,999.9 308.7,1004.4 309,1001.7 309.4,1006.5 309.7,1001.4 310,1006.7 310.4,1008.7 310.7,1009.9 311,1006.8 311.4,1010.8 311.7,1009.7 312,1008.1 312.3,1007.6 312.7,1010.5 313,1012.3 313.3,1011.9 313.7,1006.9 314,1011.3 314.3,1010.1 314.6,1010.3 315,1012.3 315.3,1013 315.6,1010.3 316,1009.9 316.3,1009 316.6,1009.7 317,1007.9 317.3,1011.9 317.6,1011.1 317.9,1007.5 318.3,1013.2 318.6,1012.9 318.9,1010.1 319.3,1014.1 319.6,1014.2 319.9,1011.9 320.3,1008.2 320.6,1009.4 320.9,1013.5 321.2,1007.9 321.6,1011.4 321.9,1013 322.2,1010.6 322.6,1007.3 322.9,1011.7 323.2,1013.9 323.6,1011.5 323.9,1012.2 324.2,1010.3 324.6,1007.5 324.9,1011 325.2,1011.8 325.5,1012.1 325.9,1012.5 326.2,1014.3 326.5,1010.4 326.9,1010.4 327.2,1011.8 327.5,1011.5 327.9,1010 328.2,1014 328.5,1007.8 328.8,1011.3 329.2,1013.2 329.5,1013.3 329.8,1008.5 330.2,1008.8 330.5,1007.4 330.8,1010.8 331.1,1008 331.5,1011.3 331.8,1008.3 332.1,1012.7 332.5,1010.1 332.8,1013.9 333.1,1008.7 333.5,1011.9 333.8,1009.2 334.1,1008.9 334.4,1010.7 334.8,1010.9 335.1,1009.4 335.4,1013.2 335.8,1008.3 336.1,1006.9 336.4,1011.6 336.8,1009.7 337.1,1014.7 337.4,1009.5 337.8,1008.1 338.1,1011.9 338.4,1011.8 338.7,1013.3 339.1,1013.3 339.4,1009.6 339.7,1016.9 340.1,1012.8 340.4,1014 340.7,1013.6 341.1,1010.4 341.4,1010.4 341.7,1011.7 342,1013.4 342.4,1007.8 342.7,1008.7 343,1014.4 343.4,1011.4 343.7,1011.5 344,1010.9 344.4,1007.9 344.7,1012.7 345,1007.6 345.3,1014.3 345.7,1013.6 346,1009.2 346.3,1009.9 346.7,1008.4 347,1010.7 347.3,1012.9 347.6,1012.5 348,1007.5 348.3,1009.7 348.6,1010.9 349,1013.4 349.3,1010.2 349.6,1008.3 350,1006.8 350.3,1010.7 350.6,1008.4 350.9,1009.5 351.3,1009.1 351.6,1013.1 351.9,1010.7 352.3,1010.5 352.6,1007.8 352.9,1006.3 353.3,1002.6 353.6,1010.7 353.9,1010.1 354.2,1007.5 354.6,1009 354.9,1008 355.2,1004.9 355.6,1006 355.9,1009.7 356.2,1008.4 356.6,1005.5 356.9,1004.1 357,1006 357.2,1007.6 357.6,1003.6 357.9,1009.1 358.2,1004 358.5,1007 358.9,1003.4 359.2,1011.8 359.5,1012.7 359.9,1005.3 360.2,1007.5 360.5,1008 360.9,1008.4 361.2,1007.6 361.5,1010.4 361.8,1010.9 362.2,1008.2 362.5,1010.1 362.8,1009.3 363.2,1009.1 363.5,1012.1 363.8,1013 364.1,1008.8 364.5,1010.5 364.8,1007.7 365.1,1010.4 365.5,1013.3 365.8,1009.3 366.1,1007 366.5,1011.7 366.8,1009.8 367.1,1012.6 367.4,1013.5 367.8,1013.3 368.1,1011.3 368.4,1010.5 368.8,1014 369.1,1011.9 369.4,1014.1 369.8,1010.7 370.1,1012.9 370.4,1014.1 370.8,1013.6 371.1,1008.8 371.4,1011.2 371.7,1011.3 372.1,1012.9 372.4,1014.6 372.7,1007.3 373.1,1007.2 373.4,1010 373.7,1013.8 374.1,1012.9 374.4,1010.3 374.7,1008.8 375,1009.8 375.4,1007.3 375.7,1009.9 376,1013.5 376.4,1008.9 376.7,1014.7 377,1005.6 377.4,1014 377.7,1011.3 378,1014.4 378.3,1007.5 378.7,1009 379,1009.2 379.3,1007.6 379.7,1008.2 380,1014.2 380.3,1008 380.6,1015.4 381,1008.2 381.3,1009.4 381.6,1009.6 382,1012.9 382.3,1013.8 382.6,1012.6 383,1013.4 383.3,1007.9 383.6,1008.6 383.9,1007.3 384.3,1012.3 384.6,1013.5 384.9,1013.6 385.3,1010.2 385.6,1006.5 385.9,1009.2 386.3,1010 386.6,1008.5 386.9,1009 387.2,1012.4 387.6,1009.3 387.9,1012.1 388.2,1014.1 388.6,1005.5 388.9,1012.5 389.2,1008 389.6,1008.1 389.9,1009.3 390.2,1012.3 390.6,1007.9 390.9,1008.6 391.2,1013.5 391.5,1010.3 391.9,1015.9 392.2,1010 392.5,1008.9 392.9,1008 393.2,1013.7 393.5,1012.3 393.9,1010.9 394.2,1014.6 394.5,1011.7 394.8,1010.3 395.2,1013.5 395.5,1013.2 395.8,1007.6 396.2,1012.8 396.5,1011.6 396.8,1009.1 397.1,1013.6 397.5,1015.9 397.8,1011.7 398.1,1013.3 398.5,1010.7 398.8,1007.8 399.1,1012.7 399.5,1009.8 399.8,1009.6 400.1,1007.5 400.4,1010.3 400.8,1011.3 401.1,1014.4 401.4,1013.9 401.8,1012 402.1,1009.5 402.4,1010.7 402.8,1012.4 403.1,1010.7 403.4,1009.5 403.8,1010.4 404.1,1008.9 404.4,1009.3 404.7,1008 405.1,1016.6 405.4,1011.5 405.7,1011 406.1,1011.3 406.4,1010.8 406.7,1010.2 407.1,1009.1 407.4,1012.2 407.7,1011.8 408,1008.9 408.4,1013.1 408.7,1013.9 409,1007.8 409.4,1011.7 409.7,1009.9 410,1008.8 410.4,1005.4 410.7,1013.2 411,1010.9 411.3,1007.4 411.7,1007.4 412,1008.7 412.3,1011.3 412.7,1009.2 413,1004.9 413.3,1010.9 413.6,1004 414,1004.2 414.3,1008.3 414.6,1003.4 415,1005.5 415.3,1007.5 415.6,998.6 416,1003.8 416.3,1003.1 416.6,1001.8 416.9,1004.3 417.3,1000.1 417.6,1003.7 417.9,1001.8 418.3,996.2 418.6,996.5 418.9,1001.5 419,999 419.3,1004.9 419.6,1001.3 419.9,997.9 420.2,996.6 420.6,996.8 420.9,1001.1 421.2,1003.1 421.6,1003.5 421.9,999.7 422.2,1004.7 422.6,1002.5 422.9,1005.2 423.2,1004.4 423.6,1008.6 423.9,1007.7 424.2,1009.4 424.5,1004.3 424.9,1009.5 425.2,1011.7 425.5,1009.1 425.9,1010.8 426.2,1011.8 426.5,1011.6 426.9,1011.2 427.2,1007.2 427.5,1010.3 427.8,1007.2 428.2,1012.8 428.5,1009.8 428.8,1008.8 429.2,1008.2 429.5,1013.7 429.8,1013.3 430.1,1009.5 430.5,1007.8 430.8,1009.7 431.1,1009.3 431.5,1010 431.8,1012 432.1,1010.4 432.5,1006.7 432.8,1009.7 433.1,1010.7 433.4,1013.6 433.8,1012.8 434.1,1009.8 434.4,1010.3 434.8,1012.7 435.1,1010.1 435.4,1008.7 435.8,1013.6 436.1,1011.9 436.4,1004.7 436.8,1009.5 437.1,1008 437.4,1008.8 437.7,1007.6 438.1,1010.4 438.4,1013.1 438.7,1007.9 439.1,1010.5 439.4,1014.4 439.7,1009.4 440.1,1007.3 440.4,1011.4 440.7,1007.7 441,1012.1 441.4,1014 441.7,1011.7 442,1010.5 442.4,1013.4 442.7,1014.3 443,1009.8 443.4,1008.9 443.7,1012 444,1013.1 444.3,1008.3 444.7,1013.3 445,1007.4 445.3,1010.4 445.7,1011.6 446,1009.6 446.3,1012.7 446.6,1010.5 447,1013.8 447.3,1012.9 447.6,1006 448,1013.8 448.3,1011.8 448.6,1007.5 449,1014.2 449.3,1010.2 449.6,1009.3 449.9,1013.1 450.3,1014.2 450.6,1010.9 450.9,1008.7 451.3,1007.3 451.6,1011.7 451.9,1014.4 452.3,1011.7 452.6,1008.7 452.9,1007.7 453.2,1007.4 453.6,1008 453.9,1007.8 454.2,1013.5 454.6,1010.2 454.9,1010.4 455.2,1011.8 455.6,1008.3 455.9,1010.5 456.2,1011 456.6,1011.4 456.9,1006.9 457.2,1009.3 457.5,1009.2 457.9,1007.4 458.2,1013.1 458.5,1005.8 458.9,1011.9 459.2,1006.4 459.5,1009.5"/>
<text x="432.6" y="865.6" font-size="22">Top</text>
<text x="428.7" y="928.4" font-size="22">Center</text>
<text x="436.9" y="995.6" font-size="22">Bottom</text>
<text class="r" transform="translate(65.7,831.7) rotate(-90) scale(1,0.93)" font-size="16">(110)</text>
<rect x="56" y="835.2" width="8.2" height="8" fill="#000"/>
<line x1="60" y1="847.5" x2="60" y2="864" stroke="#333" stroke-width="1.3"/>
<text class="r" transform="translate(104.6,760.7) rotate(-90) scale(1,0.93)" font-size="16">(111)</text>
<rect x="96.6" y="762.8" width="8.4" height="7.3" fill="#c4c4c4" stroke="#333" stroke-width="1.1"/>
<rect x="96.7" y="775" width="8.9" height="7.8" fill="#000"/>
<text class="r" transform="translate(121.3,703.5) rotate(-90) scale(1,0.93)" font-size="16">(110)</text>
<circle cx="117" cy="708.9" r="4.1" fill="#c4c4c4" stroke="#333" stroke-width="1.1"/>
<text class="r" transform="translate(121.3,751.8) rotate(-90) scale(1,0.93)" font-size="16">(200)</text>
<circle cx="118.3" cy="758.3" r="4.6" fill="#000"/>
<text class="r" transform="translate(121.8,799.5) rotate(-90) scale(1,0.93)" font-size="16">(111)</text>
<polygon points="112,802.5 120.4,802.5 116.2,809.6" fill="#000"/>
<line x1="116" y1="810.8" x2="116" y2="828.6" stroke="#333" stroke-width="1.3"/>
<text class="r" transform="translate(157.3,806.7) rotate(-90) scale(1,0.93)" font-size="16">(200)</text>
<rect x="149.1" y="813.5" width="6.9" height="6.7" fill="#c4c4c4" stroke="#333" stroke-width="1.1"/>
<rect x="148.3" y="822.6" width="8.7" height="8.4" fill="#000"/>
<line x1="152.3" y1="833.3" x2="152.3" y2="849.8" stroke="#333" stroke-width="1.3"/>
<text class="r" transform="translate(310.5,827.4) rotate(-90) scale(1,0.93)" font-size="16">(220)</text>
<rect x="301.9" y="830.5" width="7.5" height="6.7" fill="#c4c4c4" stroke="#333" stroke-width="1.1"/>
<rect x="301.4" y="842.4" width="8.6" height="7.6" fill="#000"/>
<line x1="305.7" y1="854.3" x2="305.7" y2="870.5" stroke="#333" stroke-width="1.3"/>
<text class="r" transform="translate(422.7,793.6) rotate(-90) scale(1,0.93)" font-size="16">(311)</text>
<rect x="413.7" y="799.8" width="7.6" height="6.7" fill="#c4c4c4" stroke="#333" stroke-width="1.1"/>
<rect x="413.1" y="810.3" width="8.7" height="8" fill="#000"/>
<line x1="418.1" y1="820.6" x2="418.1" y2="837.3" stroke="#333" stroke-width="1.3"/>
<line x1="51.6" y1="676.4" x2="51.6" y2="1049" stroke="#000" stroke-width="1.6"/>
<line x1="50.8" y1="1042.3" x2="460.6" y2="1042.3" stroke="#000" stroke-width="1.6"/>
<line x1="51.6" y1="1042.3" x2="51.6" y2="1048.5" stroke="#000" stroke-width="1.6"/>
<line x1="77.1" y1="1042.3" x2="77.1" y2="1045.5" stroke="#000" stroke-width="1.6"/>
<line x1="102.6" y1="1042.3" x2="102.6" y2="1048.5" stroke="#000" stroke-width="1.6"/>
<line x1="128.1" y1="1042.3" x2="128.1" y2="1045.5" stroke="#000" stroke-width="1.6"/>
<line x1="153.7" y1="1042.3" x2="153.7" y2="1048.5" stroke="#000" stroke-width="1.6"/>
<line x1="179.2" y1="1042.3" x2="179.2" y2="1045.5" stroke="#000" stroke-width="1.6"/>
<line x1="204.7" y1="1042.3" x2="204.7" y2="1048.5" stroke="#000" stroke-width="1.6"/>
<line x1="230.2" y1="1042.3" x2="230.2" y2="1045.5" stroke="#000" stroke-width="1.6"/>
<line x1="255.7" y1="1042.3" x2="255.7" y2="1048.5" stroke="#000" stroke-width="1.6"/>
<line x1="281.2" y1="1042.3" x2="281.2" y2="1045.5" stroke="#000" stroke-width="1.6"/>
<line x1="306.7" y1="1042.3" x2="306.7" y2="1048.5" stroke="#000" stroke-width="1.6"/>
<line x1="332.2" y1="1042.3" x2="332.2" y2="1045.5" stroke="#000" stroke-width="1.6"/>
<line x1="357.8" y1="1042.3" x2="357.8" y2="1048.5" stroke="#000" stroke-width="1.6"/>
<line x1="383.3" y1="1042.3" x2="383.3" y2="1045.5" stroke="#000" stroke-width="1.6"/>
<line x1="408.8" y1="1042.3" x2="408.8" y2="1048.5" stroke="#000" stroke-width="1.6"/>
<line x1="434.3" y1="1042.3" x2="434.3" y2="1045.5" stroke="#000" stroke-width="1.6"/>
<line x1="459.8" y1="1042.3" x2="459.8" y2="1048.5" stroke="#000" stroke-width="1.6"/>
<text x="51.6" y="1075.1" font-size="28" text-anchor="middle">40</text>
<text x="102.6" y="1075.1" font-size="28" text-anchor="middle">50</text>
<text x="153.7" y="1075.1" font-size="28" text-anchor="middle">60</text>
<text x="204.7" y="1075.1" font-size="28" text-anchor="middle">70</text>
<text x="255.7" y="1075.1" font-size="28" text-anchor="middle">80</text>
<text x="306.7" y="1075.1" font-size="28" text-anchor="middle">90</text>
<text x="357.8" y="1075.1" font-size="28" text-anchor="middle">100</text>
<text x="408.8" y="1075.1" font-size="28" text-anchor="middle">110</text>
<text x="459.8" y="1075.1" font-size="28" text-anchor="middle">120</text>
<text x="190.9" y="1108.2" font-size="27.8">2θ<tspan dx="1.5">, degrees</tspan></text>
<text transform="translate(38.6,951.7) rotate(-90)" font-size="28">Intensity, a.u.</text>
<line x1="51.5" y1="1132.7" x2="534.7" y2="1132.7" stroke="#444" stroke-width="1.5"/>
<line x1="51.5" y1="1169.1" x2="534.7" y2="1169.1" stroke="#444" stroke-width="1.5"/>
<line x1="51.5" y1="1199.1" x2="534.7" y2="1199.1" stroke="#444" stroke-width="1.5"/>
<line x1="51.5" y1="1226.6" x2="534.7" y2="1226.6" stroke="#444" stroke-width="1.5"/>
<line x1="103.6" y1="1114" x2="103.6" y2="1128.5" stroke="#000" stroke-width="2.1"/>
<line x1="150" y1="1114" x2="150" y2="1128.5" stroke="#000" stroke-width="2.1"/>
<line x1="306" y1="1114" x2="306" y2="1128.5" stroke="#000" stroke-width="2.1"/>
<line x1="418.5" y1="1114" x2="418.5" y2="1128.5" stroke="#000" stroke-width="2.1"/>
<line x1="454.5" y1="1114" x2="454.5" y2="1128.5" stroke="#000" stroke-width="2.1"/>
<line x1="58.3" y1="1150.2" x2="58.3" y2="1165" stroke="#000" stroke-width="2.1"/>
<line x1="103.6" y1="1150.2" x2="103.6" y2="1165" stroke="#000" stroke-width="2.1"/>
<line x1="150" y1="1150.2" x2="150" y2="1165" stroke="#000" stroke-width="2.1"/>
<line x1="183.2" y1="1150.2" x2="183.2" y2="1165" stroke="#000" stroke-width="2.1"/>
<line x1="228" y1="1150.2" x2="228" y2="1165" stroke="#000" stroke-width="2.1"/>
<line x1="306" y1="1150.2" x2="306" y2="1165" stroke="#000" stroke-width="2.1"/>
<line x1="337.7" y1="1150.2" x2="337.7" y2="1165" stroke="#000" stroke-width="2.1"/>
<line x1="370.7" y1="1150.2" x2="370.7" y2="1165" stroke="#000" stroke-width="2.1"/>
<line x1="418.5" y1="1150.2" x2="418.5" y2="1165" stroke="#000" stroke-width="2.1"/>
<line x1="454.5" y1="1150.2" x2="454.5" y2="1165" stroke="#000" stroke-width="2.1"/>
<line x1="115.6" y1="1180" x2="115.6" y2="1194.2" stroke="#000" stroke-width="2.1"/>
<line x1="179.5" y1="1180" x2="179.5" y2="1194.2" stroke="#000" stroke-width="2.1"/>
<line x1="234.9" y1="1180" x2="234.9" y2="1194.2" stroke="#000" stroke-width="2.1"/>
<line x1="292.1" y1="1180" x2="292.1" y2="1194.2" stroke="#000" stroke-width="2.1"/>
<line x1="353.4" y1="1180" x2="353.4" y2="1194.2" stroke="#000" stroke-width="2.1"/>
<line x1="75.1" y1="1202" x2="75.1" y2="1217" stroke="#000" stroke-width="2.1"/>
<line x1="115.6" y1="1202" x2="115.6" y2="1217" stroke="#000" stroke-width="2.1"/>
<line x1="233.1" y1="1202" x2="233.1" y2="1217" stroke="#000" stroke-width="2.1"/>
<line x1="322.9" y1="1202" x2="322.9" y2="1217" stroke="#000" stroke-width="2.1"/>
<line x1="356.5" y1="1202" x2="356.5" y2="1217" stroke="#000" stroke-width="2.1"/>
<line x1="115.6" y1="1232.5" x2="115.6" y2="1247" stroke="#000" stroke-width="2.1"/>
<line x1="159.6" y1="1232.5" x2="159.6" y2="1247" stroke="#000" stroke-width="2.1"/>
<line x1="312.2" y1="1232.5" x2="312.2" y2="1247" stroke="#000" stroke-width="2.1"/>
<line x1="434.8" y1="1232.5" x2="434.8" y2="1247" stroke="#000" stroke-width="2.1"/>
<text x="471.1" y="1120.4" font-size="27.5"><tspan>Ni</tspan><tspan font-size="15" dy="9.8">3</tspan><tspan font-size="27.5" dy="-9.8">Cr</tspan></text>
<text x="471.1" y="1156.7" font-size="27.5"><tspan>Ni</tspan><tspan font-size="15" dy="9.6">3</tspan><tspan font-size="27.5" dy="-9.6">Al</tspan></text>
<text x="474.8" y="1193.6" font-size="27.5">NiAl</text>
<text x="476.4" y="1221.6" font-size="27.5">Al</text>
<text x="474.8" y="1248.3" font-size="27.5">Ni</text>
</svg>
</body></html>
